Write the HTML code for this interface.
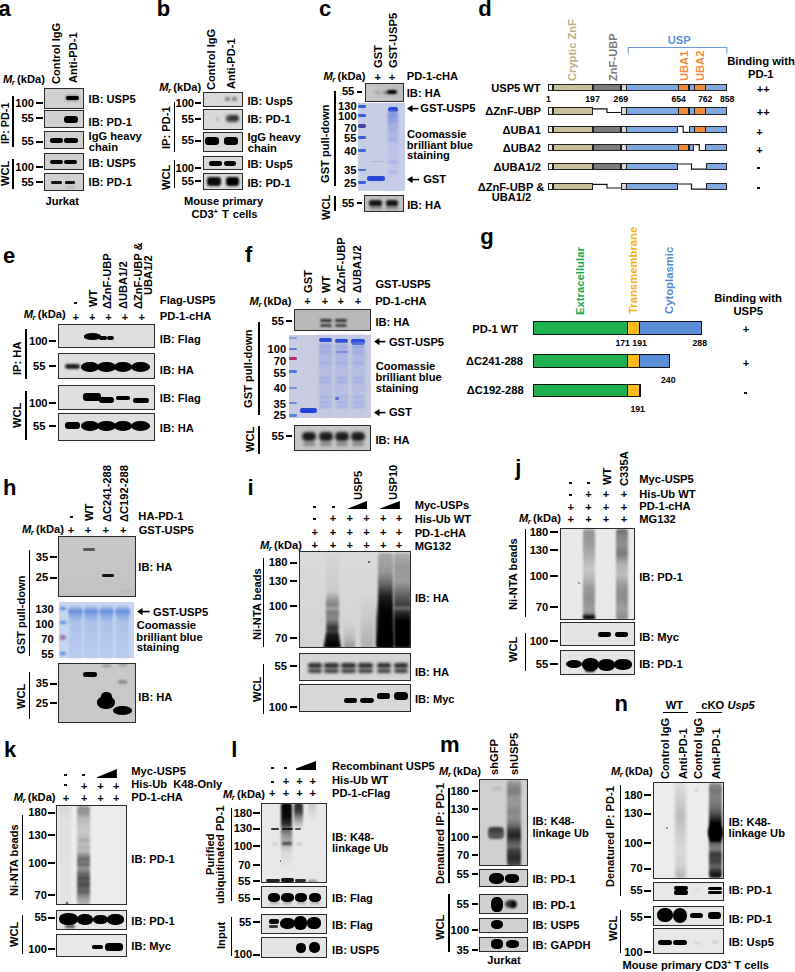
<!DOCTYPE html>
<html><head><meta charset="utf-8"><style>*{margin:0;padding:0;box-sizing:border-box}
html,body{width:795px;height:972px;overflow:hidden;background:#fff}
body{position:relative;font-family:"Liberation Sans", sans-serif;font-weight:bold;color:#000}
.t{position:absolute;white-space:nowrap}
.r{transform-origin:0 0;transform:rotate(-90deg)}
.b{position:absolute}
.t i{font-style:italic}
.t sub{font-size:0.72em;font-style:italic;vertical-align:-0.25em;line-height:0;margin-left:-0.5px;margin-right:-1px}
</style></head><body>
<div class="t" style="left:-1.54px;top:-2.30px;font-size:22px;line-height:22px;">a</div>
<div class="t r" style="left:51.10px;top:83.86px;font-size:11.15px;line-height:11.15px;">Control IgG</div>
<div class="t r" style="left:68.10px;top:83.38px;font-size:11.15px;line-height:11.15px;">Anti-PD-1</div>
<div class="t" style="left:3.00px;top:74.00px;font-size:11.15px;line-height:11.15px;"><i>M</i><sub>r</sub> (kDa)</div>
<div class="b" style="left:44.10px;top:87.80px;width:39.70px;height:21.00px;background:#d0d0d0;border:1.0px solid #2a2a2a;overflow:hidden">
<div class="b" style="left:21.15px;top:7.50px;width:12.50px;height:4.20px;background:#000;border-radius:1.89px;filter:blur(0.6px);opacity:1.0"></div>
<div class="b" style="left:20.40px;top:6.60px;width:14.00px;height:6.00px;background:#000;border-radius:2.70px;filter:blur(1.2px);opacity:0.3"></div>
</div>
<div class="b" style="left:44.10px;top:110.30px;width:39.70px;height:18.10px;background:#d0d0d0;border:1.0px solid #2a2a2a;overflow:hidden">
<div class="b" style="left:19.15px;top:4.70px;width:13.50px;height:6.80px;background:#000;border-radius:3px;filter:blur(0.5px);opacity:1.0"></div>
</div>
<div class="b" style="left:44.10px;top:130.70px;width:39.70px;height:17.90px;background:#d0d0d0;border:1.0px solid #2a2a2a;overflow:hidden">
<div class="b" style="left:4.55px;top:6.20px;width:13.30px;height:5.00px;background:#000;border-radius:2.25px;filter:blur(0.55px);opacity:1.0"></div>
<div class="b" style="left:19.15px;top:6.20px;width:13.50px;height:5.00px;background:#000;border-radius:2.25px;filter:blur(0.55px);opacity:1.0"></div>
</div>
<div class="b" style="left:44.10px;top:153.30px;width:39.70px;height:17.00px;background:#d0d0d0;border:1.0px solid #2a2a2a;overflow:hidden">
<div class="b" style="left:4.70px;top:5.75px;width:13.00px;height:4.30px;background:#000;border-radius:1.94px;filter:blur(0.55px);opacity:1.0"></div>
<div class="b" style="left:19.40px;top:5.75px;width:13.00px;height:4.30px;background:#000;border-radius:1.94px;filter:blur(0.55px);opacity:1.0"></div>
</div>
<div class="b" style="left:44.10px;top:172.50px;width:39.70px;height:18.80px;background:#d0d0d0;border:1.0px solid #2a2a2a;overflow:hidden">
<div class="b" style="left:5.90px;top:7.20px;width:10.60px;height:3.00px;background:#000;border-radius:1.35px;filter:blur(0.6px);opacity:0.9"></div>
<div class="b" style="left:19.80px;top:7.20px;width:10.60px;height:3.00px;background:#000;border-radius:1.35px;filter:blur(0.6px);opacity:0.9"></div>
<div class="b" style="left:20.70px;top:12.00px;width:9.00px;height:2.00px;background:#000;border-radius:0.90px;filter:blur(1px);opacity:0.15"></div>
</div>
<div class="t" style="left:15.35px;top:97.84px;font-size:11.15px;line-height:11.15px;">100</div>
<div class="b" style="left:36.10px;top:102px;width:6.70px;height:2px;background:#000"></div>
<div class="t" style="left:21.41px;top:112.84px;font-size:11.15px;line-height:11.15px;">55</div>
<div class="b" style="left:36.10px;top:117px;width:6.70px;height:2px;background:#000"></div>
<div class="t" style="left:21.41px;top:136.44px;font-size:11.15px;line-height:11.15px;">55</div>
<div class="b" style="left:36.10px;top:141px;width:6.70px;height:2px;background:#000"></div>
<div class="t" style="left:15.35px;top:162.04px;font-size:11.15px;line-height:11.15px;">100</div>
<div class="b" style="left:36.10px;top:166px;width:6.70px;height:2px;background:#000"></div>
<div class="t" style="left:21.41px;top:176.74px;font-size:11.15px;line-height:11.15px;">55</div>
<div class="b" style="left:36.10px;top:181px;width:6.70px;height:2px;background:#000"></div>
<div class="b" style="left:12.25px;top:96.40px;width:1.5px;height:50.30px;background:#000"></div>
<div class="t r" style="left:0.30px;top:144.22px;font-size:10.8px;line-height:10.8px;">IP: PD-1</div>
<div class="b" style="left:12.25px;top:158.60px;width:1.5px;height:30.20px;background:#000"></div>
<div class="t r" style="left:0.30px;top:186.31px;font-size:11.15px;line-height:11.15px;">WCL</div>
<div class="t" style="left:88.55px;top:94.20px;font-size:11.15px;line-height:11.15px;">IB: USP5</div>
<div class="t" style="left:88.55px;top:116.60px;font-size:11.15px;line-height:11.15px;">IB: PD-1</div>
<div class="t" style="left:88.55px;top:131.30px;font-size:11.15px;line-height:11.15px;">IgG heavy</div>
<div class="t" style="left:88.86px;top:142.30px;font-size:11.15px;line-height:11.15px;">chain</div>
<div class="t" style="left:88.55px;top:158.00px;font-size:11.15px;line-height:11.15px;">IB: USP5</div>
<div class="t" style="left:88.55px;top:177.40px;font-size:11.15px;line-height:11.15px;">IB: PD-1</div>
<div class="t" style="left:45.53px;top:196.00px;font-size:11.15px;line-height:11.15px;">Jurkat</div>
<div class="t" style="left:156.75px;top:-2.10px;font-size:22px;line-height:22px;">b</div>
<div class="t r" style="left:205.60px;top:90.06px;font-size:11.15px;line-height:11.15px;">Control IgG</div>
<div class="t r" style="left:226.40px;top:88.98px;font-size:11.15px;line-height:11.15px;">Anti-PD-1</div>
<div class="t" style="left:159.30px;top:82.00px;font-size:11.15px;line-height:11.15px;"><i>M</i><sub>r</sub> (kDa)</div>
<div class="b" style="left:203.10px;top:91.90px;width:39.90px;height:14.70px;background:#d9d9d9;border:1.0px solid #2a2a2a;overflow:hidden">
<div class="b" style="left:21.20px;top:4.55px;width:5.00px;height:3.50px;background:#000;border-radius:1.57px;filter:blur(1px);opacity:0.4"></div>
<div class="b" style="left:27.90px;top:4.55px;width:5.00px;height:3.50px;background:#000;border-radius:1.57px;filter:blur(1px);opacity:0.4"></div>
</div>
<div class="b" style="left:203.40px;top:109.40px;width:39.60px;height:20.40px;background:#d9d9d9;border:1.0px solid #2a2a2a;overflow:hidden">
<div class="b" style="left:11.15px;top:7.10px;width:3.50px;height:4.00px;background:#000;border-radius:1.57px;filter:blur(1.2px);opacity:0.15"></div>
<div class="b" style="left:21.85px;top:4.90px;width:12.50px;height:7.00px;background:#000;border-radius:3.15px;filter:blur(1.4px);opacity:0.7"></div>
<div class="b" style="left:26.60px;top:5.15px;width:7.00px;height:3.50px;background:#000;border-radius:1.57px;filter:blur(1.2px);opacity:0.35"></div>
</div>
<div class="b" style="left:203.40px;top:132.30px;width:39.60px;height:19.70px;background:#d9d9d9;border:1.0px solid #2a2a2a;overflow:hidden">
<div class="b" style="left:1.10px;top:4.20px;width:13.20px;height:7.20px;background:#000;border-radius:3.2px;filter:blur(0.6px);opacity:1.0"></div>
<div class="b" style="left:19.85px;top:4.20px;width:13.70px;height:7.20px;background:#000;border-radius:3.2px;filter:blur(0.6px);opacity:1.0"></div>
</div>
<div class="b" style="left:203.40px;top:156.20px;width:39.60px;height:13.80px;background:#d9d9d9;border:1.0px solid #2a2a2a;overflow:hidden">
<div class="b" style="left:4.85px;top:4.20px;width:12.70px;height:5.00px;background:#000;border-radius:2.25px;filter:blur(0.6px);opacity:1.0"></div>
<div class="b" style="left:19.75px;top:4.30px;width:12.10px;height:4.80px;background:#000;border-radius:2.16px;filter:blur(0.6px);opacity:1.0"></div>
</div>
<div class="b" style="left:203.40px;top:172.50px;width:39.60px;height:17.70px;background:#d9d9d9;border:1.0px solid #2a2a2a;overflow:hidden">
<div class="b" style="left:2.25px;top:3.50px;width:14.30px;height:8.80px;background:#000;border-radius:3px;filter:blur(1.0px);opacity:0.95"></div>
<div class="b" style="left:22.00px;top:3.50px;width:12.60px;height:8.80px;background:#000;border-radius:3px;filter:blur(1.0px);opacity:1.0"></div>
</div>
<div class="t" style="left:175.45px;top:97.64px;font-size:11.15px;line-height:11.15px;">100</div>
<div class="b" style="left:194.60px;top:102px;width:6.30px;height:2px;background:#000"></div>
<div class="t" style="left:181.51px;top:113.74px;font-size:11.15px;line-height:11.15px;">55</div>
<div class="b" style="left:194.60px;top:118px;width:6.30px;height:2px;background:#000"></div>
<div class="t" style="left:181.51px;top:135.44px;font-size:11.15px;line-height:11.15px;">55</div>
<div class="b" style="left:194.60px;top:140px;width:6.30px;height:2px;background:#000"></div>
<div class="t" style="left:175.45px;top:162.94px;font-size:11.15px;line-height:11.15px;">100</div>
<div class="b" style="left:194.60px;top:167px;width:6.30px;height:2px;background:#000"></div>
<div class="t" style="left:181.51px;top:176.14px;font-size:11.15px;line-height:11.15px;">55</div>
<div class="b" style="left:194.60px;top:180px;width:6.30px;height:2px;background:#000"></div>
<div class="b" style="left:173.55px;top:101.90px;width:1.5px;height:50.10px;background:#000"></div>
<div class="t r" style="left:160.50px;top:149.05px;font-size:11.15px;line-height:11.15px;">IP: PD-1</div>
<div class="b" style="left:173.55px;top:160.00px;width:1.5px;height:28.00px;background:#000"></div>
<div class="t r" style="left:160.50px;top:189.81px;font-size:11.15px;line-height:11.15px;">WCL</div>
<div class="t" style="left:247.45px;top:95.80px;font-size:11.15px;line-height:11.15px;">IB: Usp5</div>
<div class="t" style="left:247.45px;top:113.70px;font-size:11.15px;line-height:11.15px;">IB: PD-1</div>
<div class="t" style="left:247.45px;top:131.90px;font-size:11.15px;line-height:11.15px;">IgG heavy</div>
<div class="t" style="left:247.76px;top:142.60px;font-size:11.15px;line-height:11.15px;">chain</div>
<div class="t" style="left:247.45px;top:159.30px;font-size:11.15px;line-height:11.15px;">IB: Usp5</div>
<div class="t" style="left:247.45px;top:177.90px;font-size:11.15px;line-height:11.15px;">IB: PD-1</div>
<div class="t" style="left:183.90px;top:195.80px;font-size:11.15px;line-height:11.15px;">Mouse primary</div>
<div class="t" style="left:191.4px;top:209.00px;font-size:11.15px;line-height:11.15px;word-spacing:1px">CD3<sup style="font-size:7px;vertical-align:4px;line-height:0">+</sup> T cells</div>
<div class="t" style="left:318.94px;top:-1.60px;font-size:22px;line-height:22px;">c</div>
<div class="t r" style="left:373.40px;top:68.46px;font-size:11.15px;line-height:11.15px;">GST</div>
<div class="t r" style="left:387.60px;top:68.46px;font-size:11.15px;line-height:11.15px;">GST-USP5</div>
<div class="t" style="left:323.50px;top:71.30px;font-size:11.15px;line-height:11.15px;"><i>M</i><sub>r</sub> (kDa)</div>
<div class="t" style="left:374.44px;top:72.11px;font-size:11.15px;line-height:11.15px;">+</div>
<div class="t" style="left:388.64px;top:72.11px;font-size:11.15px;line-height:11.15px;">+</div>
<div class="t" style="left:406.75px;top:71.20px;font-size:11.15px;line-height:11.15px;">PD-1-cHA</div>
<div class="b" style="left:364.70px;top:82.50px;width:39.70px;height:19.20px;background:linear-gradient(to right,#c6c6c6,#bdbdbd);border:1.0px solid #2a2a2a;overflow:hidden">
<div class="b" style="left:8.80px;top:7.50px;width:7.00px;height:3.00px;background:#000;border-radius:1.35px;filter:blur(1.2px);opacity:0.12"></div>
<div class="b" style="left:21.25px;top:6.00px;width:10.50px;height:4.80px;background:#000;border-radius:2.16px;filter:blur(0.9px);opacity:1.0"></div>
<div class="b" style="left:17.80px;top:7.20px;width:6.00px;height:3.20px;background:#000;border-radius:1.44px;filter:blur(1.3px);opacity:0.35"></div>
</div>
<div class="t" style="left:341.91px;top:86.44px;font-size:11.15px;line-height:11.15px;">55</div>
<div class="b" style="left:356.90px;top:91px;width:5.50px;height:2px;background:#000"></div>
<div class="t" style="left:406.75px;top:88.30px;font-size:11.15px;line-height:11.15px;">IB: HA</div>
<div class="b" style="left:357.80px;top:103.00px;width:46.80px;height:87.80px;background:#c8cde6;"></div>
<div class="b" style="left:387.00px;top:104.00px;width:12.00px;height:86.00px;background:linear-gradient(#bfc6e8,#c4cae8 60%,#c7cce6);filter:blur(1.2px)"></div>
<div class="b" style="left:358.10px;top:105.00px;width:7.80px;height:2.60px;background:#3a5ed4;border-radius:1.17px;filter:blur(0.7px);opacity:1.0"></div>
<div class="b" style="left:358.10px;top:114.00px;width:7.80px;height:2.60px;background:#3a5ed4;border-radius:1.17px;filter:blur(0.7px);opacity:1.0"></div>
<div class="b" style="left:358.10px;top:124.40px;width:7.80px;height:3.80px;background:#45459e;border-radius:1.71px;filter:blur(0.7px);opacity:1.0"></div>
<div class="b" style="left:358.10px;top:136.20px;width:7.80px;height:2.80px;background:#3a5ed4;border-radius:1.26px;filter:blur(0.7px);opacity:1.0"></div>
<div class="b" style="left:358.10px;top:149.10px;width:7.80px;height:2.80px;background:#4468d6;border-radius:1.26px;filter:blur(0.7px);opacity:1.0"></div>
<div class="b" style="left:358.10px;top:168.60px;width:7.80px;height:2.60px;background:#4a70d8;border-radius:1.17px;filter:blur(0.7px);opacity:1.0"></div>
<div class="b" style="left:358.10px;top:180.80px;width:7.80px;height:3.20px;background:#3a5ed4;border-radius:1.44px;filter:blur(0.7px);opacity:1.0"></div>
<div class="b" style="left:367.30px;top:176.10px;width:18.00px;height:4.60px;background:#2a46d2;border-radius:2.07px;filter:blur(0.7px);opacity:1.0"></div>
<div class="b" style="left:387.50px;top:106.80px;width:10.20px;height:5.20px;background:#2a48d8;border-radius:2.5px;filter:blur(0.7px);opacity:1.0"></div>
<div class="b" style="left:387.50px;top:111.00px;width:10.50px;height:65.00px;background:linear-gradient(to bottom,#7f93de 0%,#a2afe2 20%,#b8c0e6 50%,#c2c8e6 100%);filter:blur(1.2px);border-radius:3px"></div>
<div class="b" style="left:387.85px;top:114.90px;width:9.50px;height:2.20px;background:#8294dc;border-radius:0.99px;filter:blur(0.9px);opacity:0.5"></div>
<div class="b" style="left:387.85px;top:119.40px;width:9.50px;height:2.20px;background:#8294dc;border-radius:0.99px;filter:blur(0.9px);opacity:0.4"></div>
<div class="b" style="left:387.85px;top:129.90px;width:9.50px;height:2.20px;background:#8294dc;border-radius:0.99px;filter:blur(0.9px);opacity:0.3"></div>
<div class="b" style="left:387.85px;top:138.40px;width:9.50px;height:2.20px;background:#8294dc;border-radius:0.99px;filter:blur(0.9px);opacity:0.35"></div>
<div class="b" style="left:387.85px;top:160.90px;width:9.50px;height:2.20px;background:#8294dc;border-radius:0.99px;filter:blur(0.9px);opacity:0.5"></div>
<div class="b" style="left:387.85px;top:171.20px;width:9.50px;height:2.20px;background:#8294dc;border-radius:0.99px;filter:blur(0.9px);opacity:0.55"></div>
<div class="b" style="left:371.00px;top:160.50px;width:12.00px;height:1.60px;background:#a9b2de;border-radius:0.72px;filter:blur(0.7px);opacity:1.0"></div>
<div class="t" style="left:338.05px;top:100.54px;font-size:11.15px;line-height:11.15px;">130</div>
<div class="t" style="left:338.05px;top:111.24px;font-size:11.15px;line-height:11.15px;">100</div>
<div class="t" style="left:344.26px;top:122.54px;font-size:11.15px;line-height:11.15px;">70</div>
<div class="t" style="left:344.11px;top:133.44px;font-size:11.15px;line-height:11.15px;">55</div>
<div class="t" style="left:344.26px;top:146.04px;font-size:11.15px;line-height:11.15px;">40</div>
<div class="t" style="left:344.11px;top:165.14px;font-size:11.15px;line-height:11.15px;">35</div>
<div class="t" style="left:344.11px;top:178.04px;font-size:11.15px;line-height:11.15px;">25</div>
<svg class="b" style="left:405.60px;top:104.00px" width="13.60" height="9.20"><polygon points="1,4.6 6.5,1 6.5,8.2" fill="#000"/><rect x="5.5" y="3.8" width="7.099999999999966" height="1.6" fill="#000"/></svg>
<div class="t" style="left:420.34px;top:103.30px;font-size:11.15px;line-height:11.15px;">GST-USP5</div>
<div class="t" style="left:407.04px;top:128.90px;font-size:11.15px;line-height:11.15px;">Coomassie</div>
<div class="t" style="left:406.77px;top:139.80px;font-size:11.15px;line-height:11.15px;">brilliant blue</div>
<div class="t" style="left:407.11px;top:150.40px;font-size:11.15px;line-height:11.15px;">staining</div>
<svg class="b" style="left:405.60px;top:175.00px" width="14.00" height="9.20"><polygon points="1,4.6 6.5,1 6.5,8.2" fill="#000"/><rect x="5.5" y="3.8" width="7.5" height="1.6" fill="#000"/></svg>
<div class="t" style="left:423.14px;top:174.40px;font-size:11.15px;line-height:11.15px;">GST</div>
<div class="b" style="left:334.15px;top:91.10px;width:1.5px;height:94.70px;background:#000"></div>
<div class="t r" style="left:319.60px;top:183.46px;font-size:11.15px;line-height:11.15px;">GST pull-down</div>
<div class="b" style="left:364.40px;top:195.10px;width:39.60px;height:17.30px;background:#bfbfbf;border:1.0px solid #2a2a2a;overflow:hidden">
<div class="b" style="left:4.10px;top:4.30px;width:13.00px;height:5.80px;background:#000;border-radius:2.61px;filter:blur(1.1px);opacity:0.88"></div>
<div class="b" style="left:20.35px;top:4.30px;width:12.50px;height:5.80px;background:#000;border-radius:2.61px;filter:blur(1.1px);opacity:0.88"></div>
<div class="b" style="left:4.60px;top:10.15px;width:12.00px;height:2.50px;background:#000;border-radius:1.12px;filter:blur(1px);opacity:0.3"></div>
<div class="b" style="left:20.60px;top:10.15px;width:12.00px;height:2.50px;background:#000;border-radius:1.12px;filter:blur(1px);opacity:0.3"></div>
</div>
<div class="t" style="left:341.91px;top:198.24px;font-size:11.15px;line-height:11.15px;">55</div>
<div class="b" style="left:356.60px;top:202px;width:5.80px;height:2px;background:#000"></div>
<div class="b" style="left:334.15px;top:195.50px;width:1.5px;height:15.10px;background:#000"></div>
<div class="t r" style="left:321.00px;top:219.81px;font-size:11.15px;line-height:11.15px;">WCL</div>
<div class="t" style="left:407.15px;top:199.70px;font-size:11.15px;line-height:11.15px;">IB: HA</div>
<div class="t" style="left:478.20px;top:-2.10px;font-size:22px;line-height:22px;">d</div>
<div class="t r" style="left:567.30px;top:80.96px;font-size:11.15px;line-height:11.15px;color:#b9b089;">Cryptic ZnF</div>
<div class="t r" style="left:608.30px;top:80.83px;font-size:11.15px;line-height:11.15px;color:#7a7a7a;">ZnF-UBP</div>
<div class="t" style="left:667.73px;top:35.20px;font-size:11.15px;line-height:11.15px;color:#5b8fd3;">USP</div>
<svg class="b" style="left:626px;top:46px" width="103" height="9"><path d="M2.2,7.5 V1.5 H100.8 V7.5" fill="none" stroke="#6e9ad6" stroke-width="1.1"/></svg>
<div class="t r" style="left:678.80px;top:81.17px;font-size:11.15px;line-height:11.15px;color:#f0883a;">UBA1</div>
<div class="t r" style="left:694.60px;top:81.17px;font-size:11.15px;line-height:11.15px;color:#f0883a;">UBA2</div>
<div class="t" style="left:727.14px;top:55.50px;font-size:11.3px;line-height:11.3px;">Binding with</div>
<div class="t" style="left:747.91px;top:68.80px;font-size:11.3px;line-height:11.3px;">PD-1</div>
<div class="t" style="left:491.16px;top:83.05px;font-size:11.15px;line-height:11.15px;">USP5 WT</div>
<div class="t" style="left:756.78px;top:83.95px;font-size:11.15px;line-height:11.15px;">++</div>
<div class="b" style="left:548.00px;top:84.20px;width:5.00px;height:7.30px;background:#ececec;border:1px solid #222"></div>
<div class="b" style="left:552.50px;top:84.20px;width:40.30px;height:7.30px;background:#c8be98;border:1px solid #222"></div>
<div class="b" style="left:591.80px;top:84.20px;width:29.50px;height:7.30px;background:#7b7b7b;border:1px solid #222"></div>
<div class="b" style="left:592.10px;top:85.20px;width:1.50px;height:5.30px;background:#222;"></div>
<div class="b" style="left:620.80px;top:84.20px;width:6.10px;height:7.30px;background:#d9d9d9;border:1px solid #222"></div>
<div class="b" style="left:626.40px;top:84.20px;width:52.40px;height:7.30px;background:#7fa7e0;border:1px solid #222"></div>
<div class="b" style="left:678.30px;top:84.20px;width:10.90px;height:7.30px;background:#f08a3a;border:1px solid #222"></div>
<div class="b" style="left:688.70px;top:84.20px;width:6.20px;height:7.30px;background:#7fa7e0;border:1px solid #222"></div>
<div class="b" style="left:694.40px;top:84.20px;width:11.30px;height:7.30px;background:#f08a3a;border:1px solid #222"></div>
<div class="b" style="left:705.20px;top:84.20px;width:21.60px;height:7.30px;background:#7fa7e0;border:1px solid #222"></div>
<div class="t" style="left:485.28px;top:106.15px;font-size:11.15px;line-height:11.15px;">ΔZnF-UBP</div>
<div class="t" style="left:756.78px;top:107.05px;font-size:11.15px;line-height:11.15px;">++</div>
<div class="b" style="left:548.00px;top:107.30px;width:5.00px;height:7.30px;background:#ececec;border:1px solid #222"></div>
<div class="b" style="left:552.50px;top:107.30px;width:40.30px;height:7.30px;background:#c8be98;border:1px solid #222"></div>
<svg class="b" style="left:0;top:0;overflow:visible" width="1" height="1"><path d="M592.80,108.90 L607.00,108.90 L607.00,112.45 L620.80,112.45" fill="none" stroke="#111" stroke-width="1.15"/></svg>
<div class="b" style="left:620.80px;top:107.30px;width:6.10px;height:7.30px;background:#d9d9d9;border:1px solid #222"></div>
<div class="b" style="left:626.40px;top:107.30px;width:52.40px;height:7.30px;background:#7fa7e0;border:1px solid #222"></div>
<div class="b" style="left:678.30px;top:107.30px;width:10.90px;height:7.30px;background:#f08a3a;border:1px solid #222"></div>
<div class="b" style="left:688.70px;top:107.30px;width:6.20px;height:7.30px;background:#7fa7e0;border:1px solid #222"></div>
<div class="b" style="left:694.40px;top:107.30px;width:11.30px;height:7.30px;background:#f08a3a;border:1px solid #222"></div>
<div class="b" style="left:705.20px;top:107.30px;width:21.60px;height:7.30px;background:#7fa7e0;border:1px solid #222"></div>
<div class="t" style="left:502.54px;top:124.65px;font-size:11.15px;line-height:11.15px;">ΔUBA1</div>
<div class="t" style="left:756.34px;top:127.26px;font-size:11.15px;line-height:11.15px;">+</div>
<div class="b" style="left:548.00px;top:125.80px;width:5.00px;height:7.30px;background:#ececec;border:1px solid #222"></div>
<div class="b" style="left:552.50px;top:125.80px;width:40.30px;height:7.30px;background:#c8be98;border:1px solid #222"></div>
<div class="b" style="left:591.80px;top:125.80px;width:29.50px;height:7.30px;background:#7b7b7b;border:1px solid #222"></div>
<div class="b" style="left:592.10px;top:126.80px;width:1.50px;height:5.30px;background:#222;"></div>
<div class="b" style="left:620.80px;top:125.80px;width:6.10px;height:7.30px;background:#d9d9d9;border:1px solid #222"></div>
<div class="b" style="left:626.40px;top:125.80px;width:51.90px;height:7.30px;background:#7fa7e0;border:1px solid #222"></div>
<svg class="b" style="left:0;top:0;overflow:visible" width="1" height="1"><path d="M678.30,126.40 L683.20,126.40 L683.20,132.30 L688.70,132.30" fill="none" stroke="#111" stroke-width="1.15"/></svg>
<div class="b" style="left:688.70px;top:125.80px;width:6.20px;height:7.30px;background:#7fa7e0;border:1px solid #222"></div>
<div class="b" style="left:694.40px;top:125.80px;width:11.30px;height:7.30px;background:#f08a3a;border:1px solid #222"></div>
<div class="b" style="left:705.20px;top:125.80px;width:21.60px;height:7.30px;background:#7fa7e0;border:1px solid #222"></div>
<div class="t" style="left:502.67px;top:142.85px;font-size:11.15px;line-height:11.15px;">ΔUBA2</div>
<div class="t" style="left:756.34px;top:144.66px;font-size:11.15px;line-height:11.15px;">+</div>
<div class="b" style="left:548.00px;top:144.00px;width:5.00px;height:7.30px;background:#ececec;border:1px solid #222"></div>
<div class="b" style="left:552.50px;top:144.00px;width:40.30px;height:7.30px;background:#c8be98;border:1px solid #222"></div>
<div class="b" style="left:591.80px;top:144.00px;width:29.50px;height:7.30px;background:#7b7b7b;border:1px solid #222"></div>
<div class="b" style="left:592.10px;top:145.00px;width:1.50px;height:5.30px;background:#222;"></div>
<div class="b" style="left:620.80px;top:144.00px;width:6.10px;height:7.30px;background:#d9d9d9;border:1px solid #222"></div>
<div class="b" style="left:626.40px;top:144.00px;width:52.40px;height:7.30px;background:#7fa7e0;border:1px solid #222"></div>
<div class="b" style="left:678.30px;top:144.00px;width:10.90px;height:7.30px;background:#f08a3a;border:1px solid #222"></div>
<div class="b" style="left:688.70px;top:144.00px;width:5.70px;height:7.30px;background:#7fa7e0;border:1px solid #222"></div>
<svg class="b" style="left:0;top:0;overflow:visible" width="1" height="1"><path d="M694.40,144.60 L699.30,144.60 L699.30,150.50 L705.40,150.50" fill="none" stroke="#111" stroke-width="1.15"/></svg>
<div class="b" style="left:705.40px;top:144.00px;width:21.40px;height:7.30px;background:#7fa7e0;border:1px solid #222"></div>
<div class="t" style="left:493.38px;top:161.65px;font-size:11.15px;line-height:11.15px;">ΔUBA1/2</div>
<div class="b" style="left:757.00px;top:167.00px;width:3px;height:2px;background:#111"></div>
<div class="b" style="left:548.00px;top:162.80px;width:5.00px;height:7.30px;background:#ececec;border:1px solid #222"></div>
<div class="b" style="left:552.50px;top:162.80px;width:40.30px;height:7.30px;background:#c8be98;border:1px solid #222"></div>
<div class="b" style="left:591.80px;top:162.80px;width:29.50px;height:7.30px;background:#7b7b7b;border:1px solid #222"></div>
<div class="b" style="left:592.10px;top:163.80px;width:1.50px;height:5.30px;background:#222;"></div>
<div class="b" style="left:620.80px;top:162.80px;width:6.10px;height:7.30px;background:#d9d9d9;border:1px solid #222"></div>
<div class="b" style="left:626.40px;top:162.80px;width:51.90px;height:7.30px;background:#7fa7e0;border:1px solid #222"></div>
<svg class="b" style="left:0;top:0;overflow:visible" width="1" height="1"><path d="M678.30,164.00 L691.50,164.00 L691.50,169.10 L706.30,169.10" fill="none" stroke="#111" stroke-width="1.15"/></svg>
<div class="b" style="left:706.30px;top:162.80px;width:20.50px;height:7.30px;background:#7fa7e0;border:1px solid #222"></div>
<div class="t" style="left:477.70px;top:181.65px;font-size:11.15px;line-height:11.15px;">ΔZnF-UBP &amp;</div>
<div class="b" style="left:757.00px;top:187.00px;width:3px;height:2px;background:#111"></div>
<div class="b" style="left:548.00px;top:182.80px;width:5.00px;height:7.30px;background:#ececec;border:1px solid #222"></div>
<div class="b" style="left:552.50px;top:182.80px;width:40.30px;height:7.30px;background:#c8be98;border:1px solid #222"></div>
<svg class="b" style="left:0;top:0;overflow:visible" width="1" height="1"><path d="M592.80,184.40 L607.00,184.40 L607.00,187.95 L620.80,187.95" fill="none" stroke="#111" stroke-width="1.15"/></svg>
<div class="b" style="left:620.80px;top:182.80px;width:6.10px;height:7.30px;background:#d9d9d9;border:1px solid #222"></div>
<div class="b" style="left:626.40px;top:182.80px;width:51.90px;height:7.30px;background:#7fa7e0;border:1px solid #222"></div>
<svg class="b" style="left:0;top:0;overflow:visible" width="1" height="1"><path d="M678.30,184.00 L691.50,184.00 L691.50,189.10 L706.30,189.10" fill="none" stroke="#111" stroke-width="1.15"/></svg>
<div class="b" style="left:706.30px;top:182.80px;width:20.50px;height:7.30px;background:#7fa7e0;border:1px solid #222"></div>
<div class="t" style="left:491.63px;top:191.60px;font-size:11.15px;line-height:11.15px;">UBA1/2</div>
<div class="t" style="left:546.03px;top:94.50px;font-size:8.7px;line-height:8.7px;">1</div>
<div class="t" style="left:585.26px;top:94.50px;font-size:8.7px;line-height:8.7px;">197</div>
<div class="t" style="left:613.55px;top:94.50px;font-size:8.7px;line-height:8.7px;">269</div>
<div class="t" style="left:671.41px;top:94.50px;font-size:8.7px;line-height:8.7px;">654</div>
<div class="t" style="left:697.93px;top:94.50px;font-size:8.7px;line-height:8.7px;">762</div>
<div class="t" style="left:719.94px;top:94.50px;font-size:8.7px;line-height:8.7px;">858</div>
<div class="t" style="left:2.94px;top:244.90px;font-size:22px;line-height:22px;">e</div>
<div class="b" style="left:74.00px;top:302.00px;width:3px;height:2px;background:#111"></div>
<div class="t r" style="left:87.50px;top:306.71px;font-size:11.15px;line-height:11.15px;">WT</div>
<div class="t r" style="left:102.40px;top:308.95px;font-size:11.15px;line-height:11.15px;">ΔZnF-UBP</div>
<div class="t r" style="left:118.20px;top:308.95px;font-size:11.15px;line-height:11.15px;">ΔUBA1/2</div>
<div class="t r" style="left:132.80px;top:308.88px;font-size:11.15px;line-height:11.15px;">ΔZnF-UBP &amp;</div>
<div class="t r" style="left:143.00px;top:295.24px;font-size:11.15px;line-height:11.15px;">UBA1/2</div>
<div class="t" style="left:159.85px;top:295.40px;font-size:11.15px;line-height:11.15px;">Flag-USP5</div>
<div class="t" style="left:159.85px;top:310.50px;font-size:11.15px;line-height:11.15px;">PD-1-cHA</div>
<div class="t" style="left:23.80px;top:309.20px;font-size:11.15px;line-height:11.15px;"><i>M</i><sub>r</sub> (kDa)</div>
<div class="t" style="left:72.54px;top:311.51px;font-size:11.15px;line-height:11.15px;">+</div>
<div class="t" style="left:88.94px;top:311.51px;font-size:11.15px;line-height:11.15px;">+</div>
<div class="t" style="left:105.34px;top:311.51px;font-size:11.15px;line-height:11.15px;">+</div>
<div class="t" style="left:121.74px;top:311.51px;font-size:11.15px;line-height:11.15px;">+</div>
<div class="t" style="left:138.44px;top:311.51px;font-size:11.15px;line-height:11.15px;">+</div>
<div class="b" style="left:58.30px;top:324.00px;width:96.40px;height:24.40px;background:#dedede;border:1.0px solid #2a2a2a;overflow:hidden">
<div class="b" style="left:24.70px;top:8.30px;width:16.60px;height:6.40px;background:#000;border-radius:48%;filter:blur(0.6px);opacity:1.0"></div>
<div class="b" style="left:39.70px;top:10.70px;width:8.00px;height:4.00px;background:#000;border-radius:1.80px;filter:blur(0.6px);opacity:1.0"></div>
<div class="b" style="left:47.95px;top:10.50px;width:6.50px;height:4.40px;background:#000;border-radius:1.98px;filter:blur(0.6px);opacity:1.0"></div>
</div>
<div class="b" style="left:58.30px;top:353.00px;width:96.40px;height:26.40px;background:#dedede;border:1.0px solid #2a2a2a;overflow:hidden">
<div class="b" style="left:5.60px;top:9.55px;width:15.20px;height:5.30px;background:#000;border-radius:2.38px;filter:blur(0.8px);opacity:0.85"></div>
<div class="b" style="left:21.95px;top:7.50px;width:17.50px;height:10.00px;background:#000;border-radius:48%;filter:blur(0.7px);opacity:1.0"></div>
<div class="b" style="left:37.95px;top:7.50px;width:18.50px;height:10.00px;background:#000;border-radius:48%;filter:blur(0.7px);opacity:1.0"></div>
<div class="b" style="left:55.00px;top:7.50px;width:18.00px;height:10.00px;background:#000;border-radius:48%;filter:blur(0.7px);opacity:1.0"></div>
<div class="b" style="left:71.45px;top:7.50px;width:19.50px;height:10.00px;background:#000;border-radius:48%;filter:blur(0.7px);opacity:1.0"></div>
</div>
<div class="b" style="left:58.30px;top:384.50px;width:96.40px;height:25.30px;background:#dedede;border:1.0px solid #2a2a2a;overflow:hidden">
<div class="b" style="left:23.35px;top:7.85px;width:17.90px;height:7.30px;background:#000;border-radius:3.29px;filter:blur(0.6px);opacity:1.0"></div>
<div class="b" style="left:39.95px;top:11.10px;width:15.10px;height:6.00px;background:#000;border-radius:2.70px;filter:blur(0.6px);opacity:1.0"></div>
<div class="b" style="left:56.45px;top:10.50px;width:14.50px;height:4.00px;background:#000;border-radius:1.80px;filter:blur(0.6px);opacity:1.0"></div>
<div class="b" style="left:73.65px;top:12.50px;width:16.50px;height:5.20px;background:#000;border-radius:2.34px;filter:blur(0.6px);opacity:1.0"></div>
</div>
<div class="b" style="left:58.30px;top:412.50px;width:96.40px;height:28.80px;background:#dedede;border:1.0px solid #2a2a2a;overflow:hidden">
<div class="b" style="left:5.60px;top:8.90px;width:15.20px;height:6.60px;background:#000;border-radius:2.97px;filter:blur(0.6px);opacity:1.0"></div>
<div class="b" style="left:21.95px;top:7.50px;width:17.50px;height:10.00px;background:#000;border-radius:48%;filter:blur(0.7px);opacity:1.0"></div>
<div class="b" style="left:37.95px;top:7.50px;width:18.50px;height:10.00px;background:#000;border-radius:48%;filter:blur(0.7px);opacity:1.0"></div>
<div class="b" style="left:55.00px;top:7.50px;width:18.00px;height:10.00px;background:#000;border-radius:48%;filter:blur(0.7px);opacity:1.0"></div>
<div class="b" style="left:71.45px;top:7.50px;width:19.50px;height:10.00px;background:#000;border-radius:48%;filter:blur(0.7px);opacity:1.0"></div>
</div>
<div class="t" style="left:28.95px;top:336.24px;font-size:11.15px;line-height:11.15px;">100</div>
<div class="b" style="left:49.30px;top:340px;width:6.80px;height:2px;background:#000"></div>
<div class="t" style="left:33.01px;top:361.14px;font-size:11.15px;line-height:11.15px;">55</div>
<div class="b" style="left:49.30px;top:365px;width:6.80px;height:2px;background:#000"></div>
<div class="t" style="left:28.95px;top:398.34px;font-size:11.15px;line-height:11.15px;">100</div>
<div class="b" style="left:49.30px;top:402px;width:6.80px;height:2px;background:#000"></div>
<div class="t" style="left:33.01px;top:421.24px;font-size:11.15px;line-height:11.15px;">55</div>
<div class="b" style="left:49.30px;top:425px;width:6.80px;height:2px;background:#000"></div>
<div class="b" style="left:25.15px;top:328.90px;width:1.5px;height:50.30px;background:#000"></div>
<div class="t r" style="left:12.30px;top:374.75px;font-size:11.15px;line-height:11.15px;">IP: HA</div>
<div class="b" style="left:25.15px;top:391.00px;width:1.5px;height:49.00px;background:#000"></div>
<div class="t r" style="left:12.30px;top:428.01px;font-size:11.15px;line-height:11.15px;">WCL</div>
<div class="t" style="left:159.85px;top:333.80px;font-size:11.15px;line-height:11.15px;">IB: Flag</div>
<div class="t" style="left:159.85px;top:364.60px;font-size:11.15px;line-height:11.15px;">IB: HA</div>
<div class="t" style="left:159.85px;top:393.40px;font-size:11.15px;line-height:11.15px;">IB: Flag</div>
<div class="t" style="left:159.85px;top:422.60px;font-size:11.15px;line-height:11.15px;">IB: HA</div>
<div class="t" style="left:244.92px;top:243.90px;font-size:22px;line-height:22px;">f</div>
<div class="t r" style="left:303.20px;top:292.96px;font-size:11.15px;line-height:11.15px;">GST</div>
<div class="t r" style="left:320.60px;top:292.51px;font-size:11.15px;line-height:11.15px;">WT</div>
<div class="t r" style="left:335.60px;top:292.95px;font-size:11.15px;line-height:11.15px;">ΔZnF-UBP</div>
<div class="t r" style="left:352.20px;top:292.95px;font-size:11.15px;line-height:11.15px;">ΔUBA1/2</div>
<div class="t" style="left:375.44px;top:279.30px;font-size:11.15px;line-height:11.15px;">GST-USP5</div>
<div class="t" style="left:375.15px;top:296.20px;font-size:11.15px;line-height:11.15px;">PD-1-cHA</div>
<div class="t" style="left:249.60px;top:295.50px;font-size:11.15px;line-height:11.15px;"><i>M</i><sub>r</sub> (kDa)</div>
<div class="t" style="left:304.14px;top:296.21px;font-size:11.15px;line-height:11.15px;">+</div>
<div class="t" style="left:321.74px;top:296.21px;font-size:11.15px;line-height:11.15px;">+</div>
<div class="t" style="left:337.44px;top:296.21px;font-size:11.15px;line-height:11.15px;">+</div>
<div class="t" style="left:354.74px;top:296.21px;font-size:11.15px;line-height:11.15px;">+</div>
<div class="b" style="left:294.00px;top:308.50px;width:77.40px;height:22.80px;background:#b9b9b9;border:1.0px solid #2a2a2a;overflow:hidden">
<div class="b" style="left:24.55px;top:9.20px;width:12.50px;height:3.80px;background:#000;border-radius:1.71px;filter:blur(1.1px);opacity:0.75"></div>
<div class="b" style="left:24.80px;top:14.00px;width:12.00px;height:3.80px;background:#000;border-radius:1.71px;filter:blur(1.1px);opacity:0.65"></div>
<div class="b" style="left:39.75px;top:9.20px;width:12.50px;height:3.80px;background:#000;border-radius:1.71px;filter:blur(1.1px);opacity:0.75"></div>
<div class="b" style="left:40.00px;top:14.00px;width:12.00px;height:3.80px;background:#000;border-radius:1.71px;filter:blur(1.1px);opacity:0.65"></div>
</div>
<div class="t" style="left:271.51px;top:315.54px;font-size:11.15px;line-height:11.15px;">55</div>
<div class="b" style="left:285.80px;top:320px;width:6.00px;height:2px;background:#000"></div>
<div class="t" style="left:375.45px;top:317.00px;font-size:11.15px;line-height:11.15px;">IB: HA</div>
<div class="b" style="left:288.60px;top:334.50px;width:82.40px;height:83.30px;background:#c9cce0;"></div>
<div class="b" style="left:318.00px;top:335.00px;width:15.00px;height:82.00px;background:#c2c7e2;filter:blur(1.5px)"></div>
<div class="b" style="left:334.50px;top:335.00px;width:14.50px;height:82.00px;background:#c2c7e2;filter:blur(1.5px)"></div>
<div class="b" style="left:350.50px;top:335.00px;width:15.50px;height:82.00px;background:#c2c7e2;filter:blur(1.5px)"></div>
<div class="b" style="left:289.40px;top:337.20px;width:7.60px;height:2.00px;background:#8aa0dc;border-radius:0.90px;filter:blur(0.7px);opacity:1.0"></div>
<div class="b" style="left:289.40px;top:347.60px;width:7.60px;height:2.20px;background:#5a80d8;border-radius:0.99px;filter:blur(0.7px);opacity:1.0"></div>
<div class="b" style="left:289.40px;top:356.90px;width:7.60px;height:3.00px;background:#a8306a;border-radius:1.35px;filter:blur(0.7px);opacity:1.0"></div>
<div class="b" style="left:289.40px;top:370.10px;width:7.60px;height:2.60px;background:#4f7ad8;border-radius:1.17px;filter:blur(0.7px);opacity:1.0"></div>
<div class="b" style="left:289.40px;top:386.50px;width:7.60px;height:2.00px;background:#7a98de;border-radius:0.90px;filter:blur(0.7px);opacity:1.0"></div>
<div class="b" style="left:289.40px;top:402.00px;width:7.60px;height:2.20px;background:#6a8ede;border-radius:0.99px;filter:blur(0.7px);opacity:1.0"></div>
<div class="b" style="left:289.40px;top:414.20px;width:7.60px;height:2.60px;background:#5a84dc;border-radius:1.17px;filter:blur(0.7px);opacity:1.0"></div>
<div class="b" style="left:300.20px;top:408.10px;width:16.40px;height:4.60px;background:#2244d6;border-radius:2.07px;filter:blur(0.6px);opacity:1.0"></div>
<div class="b" style="left:318.80px;top:337.90px;width:13.00px;height:4.20px;background:#2a4ad8;border-radius:2px;filter:blur(0.6px);opacity:1.0"></div>
<div class="b" style="left:335.00px;top:339.30px;width:13.00px;height:4.00px;background:#2e4ed8;border-radius:2px;filter:blur(0.6px);opacity:1.0"></div>
<div class="b" style="left:351.00px;top:339.40px;width:14.00px;height:4.20px;background:#2e4ed8;border-radius:2px;filter:blur(0.6px);opacity:1.0"></div>
<div class="b" style="left:318.80px;top:343.00px;width:13.00px;height:64.00px;background:linear-gradient(to bottom,#aab4e0 0%,#b6bee2 50%,#bac1e2 100%);filter:blur(1.2px);border-radius:3px"></div>
<div class="b" style="left:319.30px;top:345.90px;width:12.00px;height:2.20px;background:#8d9de0;border-radius:0.99px;filter:blur(1.0px);opacity:0.55"></div>
<div class="b" style="left:319.30px;top:350.90px;width:12.00px;height:2.20px;background:#8d9de0;border-radius:0.99px;filter:blur(1.0px);opacity:0.55"></div>
<div class="b" style="left:319.30px;top:361.90px;width:12.00px;height:2.20px;background:#8d9de0;border-radius:0.99px;filter:blur(1.0px);opacity:0.55"></div>
<div class="b" style="left:319.30px;top:376.50px;width:12.00px;height:2.20px;background:#8d9de0;border-radius:0.99px;filter:blur(1.0px);opacity:0.55"></div>
<div class="b" style="left:319.30px;top:380.90px;width:12.00px;height:2.20px;background:#8d9de0;border-radius:0.99px;filter:blur(1.0px);opacity:0.55"></div>
<div class="b" style="left:319.30px;top:395.70px;width:12.00px;height:2.20px;background:#8d9de0;border-radius:0.99px;filter:blur(1.0px);opacity:0.55"></div>
<div class="b" style="left:319.30px;top:400.90px;width:12.00px;height:2.20px;background:#8d9de0;border-radius:0.99px;filter:blur(1.0px);opacity:0.55"></div>
<div class="b" style="left:319.30px;top:405.90px;width:12.00px;height:2.20px;background:#8d9de0;border-radius:0.99px;filter:blur(1.0px);opacity:0.55"></div>
<div class="b" style="left:335.00px;top:343.00px;width:13.00px;height:64.00px;background:linear-gradient(to bottom,#aab4e0 0%,#b6bee2 50%,#bac1e2 100%);filter:blur(1.2px);border-radius:3px"></div>
<div class="b" style="left:335.50px;top:345.90px;width:12.00px;height:2.20px;background:#8d9de0;border-radius:0.99px;filter:blur(1.0px);opacity:0.55"></div>
<div class="b" style="left:335.50px;top:350.90px;width:12.00px;height:2.20px;background:#8d9de0;border-radius:0.99px;filter:blur(1.0px);opacity:0.55"></div>
<div class="b" style="left:335.50px;top:361.90px;width:12.00px;height:2.20px;background:#8d9de0;border-radius:0.99px;filter:blur(1.0px);opacity:0.55"></div>
<div class="b" style="left:335.50px;top:376.50px;width:12.00px;height:2.20px;background:#8d9de0;border-radius:0.99px;filter:blur(1.0px);opacity:0.55"></div>
<div class="b" style="left:335.50px;top:380.90px;width:12.00px;height:2.20px;background:#8d9de0;border-radius:0.99px;filter:blur(1.0px);opacity:0.55"></div>
<div class="b" style="left:335.50px;top:395.70px;width:12.00px;height:2.20px;background:#8d9de0;border-radius:0.99px;filter:blur(1.0px);opacity:0.55"></div>
<div class="b" style="left:335.50px;top:400.90px;width:12.00px;height:2.20px;background:#8d9de0;border-radius:0.99px;filter:blur(1.0px);opacity:0.55"></div>
<div class="b" style="left:335.50px;top:405.90px;width:12.00px;height:2.20px;background:#8d9de0;border-radius:0.99px;filter:blur(1.0px);opacity:0.55"></div>
<div class="b" style="left:351.50px;top:343.00px;width:13.00px;height:64.00px;background:linear-gradient(to bottom,#aab4e0 0%,#b6bee2 50%,#bac1e2 100%);filter:blur(1.2px);border-radius:3px"></div>
<div class="b" style="left:352.00px;top:345.90px;width:12.00px;height:2.20px;background:#8d9de0;border-radius:0.99px;filter:blur(1.0px);opacity:0.55"></div>
<div class="b" style="left:352.00px;top:350.90px;width:12.00px;height:2.20px;background:#8d9de0;border-radius:0.99px;filter:blur(1.0px);opacity:0.55"></div>
<div class="b" style="left:352.00px;top:361.90px;width:12.00px;height:2.20px;background:#8d9de0;border-radius:0.99px;filter:blur(1.0px);opacity:0.55"></div>
<div class="b" style="left:352.00px;top:376.50px;width:12.00px;height:2.20px;background:#8d9de0;border-radius:0.99px;filter:blur(1.0px);opacity:0.55"></div>
<div class="b" style="left:352.00px;top:380.90px;width:12.00px;height:2.20px;background:#8d9de0;border-radius:0.99px;filter:blur(1.0px);opacity:0.55"></div>
<div class="b" style="left:352.00px;top:395.70px;width:12.00px;height:2.20px;background:#8d9de0;border-radius:0.99px;filter:blur(1.0px);opacity:0.55"></div>
<div class="b" style="left:352.00px;top:400.90px;width:12.00px;height:2.20px;background:#8d9de0;border-radius:0.99px;filter:blur(1.0px);opacity:0.55"></div>
<div class="b" style="left:352.00px;top:405.90px;width:12.00px;height:2.20px;background:#8d9de0;border-radius:0.99px;filter:blur(1.0px);opacity:0.55"></div>
<div class="b" style="left:335.50px;top:351.00px;width:12.00px;height:2.00px;background:#7a8ede;border-radius:0.90px;filter:blur(0.6px);opacity:1.0"></div>
<div class="b" style="left:352.00px;top:343.00px;width:12.00px;height:2.00px;background:#5670da;border-radius:0.90px;filter:blur(0.6px);opacity:1.0"></div>
<div class="b" style="left:335.00px;top:397.30px;width:4.00px;height:3.00px;background:#5a6ed8;border-radius:1.35px;filter:blur(0.6px);opacity:1.0"></div>
<div class="t" style="left:267.55px;top:344.14px;font-size:11.15px;line-height:11.15px;">100</div>
<div class="t" style="left:273.76px;top:356.44px;font-size:11.15px;line-height:11.15px;">70</div>
<div class="t" style="left:273.61px;top:368.24px;font-size:11.15px;line-height:11.15px;">55</div>
<div class="t" style="left:273.76px;top:382.94px;font-size:11.15px;line-height:11.15px;">40</div>
<div class="t" style="left:273.61px;top:398.84px;font-size:11.15px;line-height:11.15px;">35</div>
<div class="t" style="left:273.61px;top:409.74px;font-size:11.15px;line-height:11.15px;">25</div>
<svg class="b" style="left:373.20px;top:336.90px" width="13.40" height="9.20"><polygon points="1,4.6 6.5,1 6.5,8.2" fill="#000"/><rect x="5.5" y="3.8" width="6.900000000000034" height="1.6" fill="#000"/></svg>
<div class="t" style="left:388.94px;top:336.50px;font-size:11.15px;line-height:11.15px;">GST-USP5</div>
<div class="t" style="left:375.74px;top:361.40px;font-size:11.15px;line-height:11.15px;">Coomassie</div>
<div class="t" style="left:375.47px;top:372.40px;font-size:11.15px;line-height:11.15px;">brilliant blue</div>
<div class="t" style="left:375.81px;top:383.20px;font-size:11.15px;line-height:11.15px;">staining</div>
<svg class="b" style="left:373.20px;top:408.00px" width="13.40" height="9.20"><polygon points="1,4.6 6.5,1 6.5,8.2" fill="#000"/><rect x="5.5" y="3.8" width="6.900000000000034" height="1.6" fill="#000"/></svg>
<div class="t" style="left:388.94px;top:407.40px;font-size:11.15px;line-height:11.15px;">GST</div>
<div class="b" style="left:258.05px;top:322.10px;width:1.5px;height:92.70px;background:#000"></div>
<div class="t r" style="left:243.30px;top:408.46px;font-size:11.15px;line-height:11.15px;">GST pull-down</div>
<div class="b" style="left:294.00px;top:424.50px;width:77.40px;height:26.30px;background:#c6c6c6;border:1.0px solid #2a2a2a;overflow:hidden">
<div class="b" style="left:7.20px;top:6.25px;width:14.00px;height:9.50px;background:#000;border-radius:4.28px;filter:blur(1.6px);opacity:0.85"></div>
<div class="b" style="left:8.20px;top:16.75px;width:12.00px;height:3.50px;background:#000;border-radius:1.57px;filter:blur(1.4px);opacity:0.3"></div>
<div class="b" style="left:23.80px;top:6.25px;width:14.00px;height:9.50px;background:#000;border-radius:4.28px;filter:blur(1.6px);opacity:0.85"></div>
<div class="b" style="left:24.80px;top:16.75px;width:12.00px;height:3.50px;background:#000;border-radius:1.57px;filter:blur(1.4px);opacity:0.3"></div>
<div class="b" style="left:40.40px;top:6.25px;width:14.00px;height:9.50px;background:#000;border-radius:4.28px;filter:blur(1.6px);opacity:0.85"></div>
<div class="b" style="left:41.40px;top:16.75px;width:12.00px;height:3.50px;background:#000;border-radius:1.57px;filter:blur(1.4px);opacity:0.3"></div>
<div class="b" style="left:55.60px;top:6.25px;width:14.00px;height:9.50px;background:#000;border-radius:4.28px;filter:blur(1.6px);opacity:0.85"></div>
<div class="b" style="left:56.60px;top:16.75px;width:12.00px;height:3.50px;background:#000;border-radius:1.57px;filter:blur(1.4px);opacity:0.3"></div>
</div>
<div class="t" style="left:271.51px;top:430.74px;font-size:11.15px;line-height:11.15px;">55</div>
<div class="b" style="left:285.80px;top:435px;width:6.00px;height:2px;background:#000"></div>
<div class="t" style="left:375.45px;top:434.50px;font-size:11.15px;line-height:11.15px;">IB: HA</div>
<div class="b" style="left:258.05px;top:425.90px;width:1.5px;height:27.70px;background:#000"></div>
<div class="t r" style="left:244.50px;top:452.21px;font-size:11.15px;line-height:11.15px;">WCL</div>
<div class="t" style="left:480.20px;top:226.20px;font-size:22px;line-height:22px;">g</div>
<div class="t r" style="left:575.20px;top:314.76px;font-size:11.3px;line-height:11.3px;color:#16aa4a;">Extracellular</div>
<div class="t r" style="left:628.10px;top:314.13px;font-size:11.3px;line-height:11.3px;color:#f7b20c;">Transmembrane</div>
<div class="t r" style="left:664.10px;top:314.46px;font-size:11.3px;line-height:11.3px;color:#5687d2;">Cytoplasmic</div>
<div class="t" style="left:714.14px;top:293.30px;font-size:11.3px;line-height:11.3px;">Binding with</div>
<div class="t" style="left:733.46px;top:305.90px;font-size:11.3px;line-height:11.3px;">USP5</div>
<div class="b" style="left:533.2px;top:320.6px;width:168.60px;height:14.10px;border:1.3px solid #111;background:linear-gradient(to right,#1fb04f 0,#1fb04f 92.80px,#111 92.80px,#111 93.90px,#fbba1c 93.90px,#fbba1c 104.80px,#111 104.80px,#111 105.90px,#5b8ed8 105.90px)"></div>
<div class="b" style="left:533.2px;top:354.3px;width:137.20px;height:13.90px;border:1.3px solid #111;background:linear-gradient(to right,#1fb04f 0,#1fb04f 92.80px,#111 92.80px,#111 93.90px,#fbba1c 93.90px,#fbba1c 104.80px,#111 104.80px,#111 105.90px,#5b8ed8 105.90px)"></div>
<div class="b" style="left:533.2px;top:383.6px;width:107.40px;height:13.70px;border:1.3px solid #111;background:linear-gradient(to right,#1fb04f 0,#1fb04f 92.80px,#111 92.80px,#111 93.90px,#fbba1c 93.90px,#fbba1c 104.80px,#111 104.80px,#111 105.90px,#5b8ed8 105.90px)"></div>
<div class="t" style="left:472.27px;top:323.60px;font-size:11.15px;line-height:11.15px;">PD-1 WT</div>
<div class="t" style="left:466.05px;top:356.30px;font-size:11.15px;line-height:11.15px;">ΔC241-288</div>
<div class="t" style="left:466.65px;top:384.50px;font-size:11.15px;line-height:11.15px;">ΔC192-288</div>
<div class="t" style="left:615.45px;top:338.60px;font-size:8.7px;line-height:8.7px;">171 191</div>
<div class="t" style="left:692.50px;top:338.60px;font-size:8.7px;line-height:8.7px;">288</div>
<div class="t" style="left:661.00px;top:375.60px;font-size:8.7px;line-height:8.7px;">240</div>
<div class="t" style="left:630.45px;top:404.80px;font-size:8.7px;line-height:8.7px;">191</div>
<div class="t" style="left:742.74px;top:324.11px;font-size:11.15px;line-height:11.15px;">+</div>
<div class="t" style="left:742.74px;top:358.01px;font-size:11.15px;line-height:11.15px;">+</div>
<div class="b" style="left:744.00px;top:392.00px;width:3px;height:2px;background:#111"></div>
<div class="t" style="left:2.96px;top:476.90px;font-size:22px;line-height:22px;">h</div>
<div class="b" style="left:70.00px;top:516.00px;width:3px;height:2px;background:#111"></div>
<div class="t r" style="left:83.70px;top:520.61px;font-size:11.15px;line-height:11.15px;">WT</div>
<div class="t r" style="left:101.50px;top:522.25px;font-size:11.15px;line-height:11.15px;">ΔC241-288</div>
<div class="t r" style="left:119.10px;top:522.25px;font-size:11.15px;line-height:11.15px;">ΔC192-288</div>
<div class="t" style="left:138.35px;top:511.00px;font-size:11.15px;line-height:11.15px;">HA-PD-1</div>
<div class="t" style="left:138.64px;top:525.40px;font-size:11.15px;line-height:11.15px;">GST-USP5</div>
<div class="t" style="left:22.00px;top:524.20px;font-size:11.15px;line-height:11.15px;"><i>M</i><sub>r</sub> (kDa)</div>
<div class="t" style="left:67.64px;top:524.51px;font-size:11.15px;line-height:11.15px;">+</div>
<div class="t" style="left:84.74px;top:524.51px;font-size:11.15px;line-height:11.15px;">+</div>
<div class="t" style="left:102.44px;top:524.51px;font-size:11.15px;line-height:11.15px;">+</div>
<div class="t" style="left:120.04px;top:524.51px;font-size:11.15px;line-height:11.15px;">+</div>
<div class="b" style="left:58.10px;top:536.20px;width:77.50px;height:61.30px;background:linear-gradient(#c8c8c8,#c3c3c3);border:1.0px solid #2a2a2a;overflow:hidden">
<div class="b" style="left:23.65px;top:11.30px;width:12.30px;height:2.60px;background:#000;border-radius:1.17px;filter:blur(0.7px);opacity:0.55"></div>
<div class="b" style="left:43.15px;top:37.10px;width:11.50px;height:3.00px;background:#000;border-radius:1.35px;filter:blur(0.6px);opacity:0.9"></div>
<div class="b" style="left:61.90px;top:53.30px;width:10.00px;height:3.00px;background:#000;border-radius:1.35px;filter:blur(1.5px);opacity:0.06"></div>
</div>
<div class="t" style="left:35.71px;top:552.14px;font-size:11.15px;line-height:11.15px;">35</div>
<div class="b" style="left:50.20px;top:556px;width:6.80px;height:2px;background:#000"></div>
<div class="t" style="left:35.71px;top:572.44px;font-size:11.15px;line-height:11.15px;">25</div>
<div class="b" style="left:50.20px;top:577px;width:6.80px;height:2px;background:#000"></div>
<div class="t" style="left:138.35px;top:561.80px;font-size:11.15px;line-height:11.15px;">IB: HA</div>
<div class="b" style="left:59.30px;top:602.20px;width:74.70px;height:56.10px;background:#c7d6f0;"></div>
<div class="b" style="left:68.70px;top:606.00px;width:13.60px;height:52.00px;background:linear-gradient(to bottom,#9fb8e6 0%,#adc2ea 25%,#b8caee 100%);filter:blur(1.3px);border-radius:3px"></div>
<div class="b" style="left:68.25px;top:608.75px;width:14.50px;height:5.50px;background:#6b90dc;border-radius:2.48px;filter:blur(1.1px);opacity:0.95"></div>
<div class="b" style="left:68.50px;top:613.00px;width:14.00px;height:9.00px;filter:blur(1.0px)"><div style="width:100%;height:100%;background:linear-gradient(to bottom,rgba(100,140,220,0.6) 0%,rgba(100,140,220,0) 100%);clip-path:polygon(0.0% 0,100.0% 0,85.7% 100%,14.3% 100%)"></div></div>
<div class="b" style="left:84.20px;top:606.00px;width:13.60px;height:52.00px;background:linear-gradient(to bottom,#9fb8e6 0%,#adc2ea 25%,#b8caee 100%);filter:blur(1.3px);border-radius:3px"></div>
<div class="b" style="left:83.75px;top:608.75px;width:14.50px;height:5.50px;background:#6b90dc;border-radius:2.48px;filter:blur(1.1px);opacity:0.95"></div>
<div class="b" style="left:84.00px;top:613.00px;width:14.00px;height:9.00px;filter:blur(1.0px)"><div style="width:100%;height:100%;background:linear-gradient(to bottom,rgba(100,140,220,0.6) 0%,rgba(100,140,220,0) 100%);clip-path:polygon(0.0% 0,100.0% 0,85.7% 100%,14.3% 100%)"></div></div>
<div class="b" style="left:99.70px;top:606.00px;width:13.60px;height:52.00px;background:linear-gradient(to bottom,#9fb8e6 0%,#adc2ea 25%,#b8caee 100%);filter:blur(1.3px);border-radius:3px"></div>
<div class="b" style="left:99.25px;top:608.75px;width:14.50px;height:5.50px;background:#6b90dc;border-radius:2.48px;filter:blur(1.1px);opacity:0.95"></div>
<div class="b" style="left:99.50px;top:613.00px;width:14.00px;height:9.00px;filter:blur(1.0px)"><div style="width:100%;height:100%;background:linear-gradient(to bottom,rgba(100,140,220,0.6) 0%,rgba(100,140,220,0) 100%);clip-path:polygon(0.0% 0,100.0% 0,85.7% 100%,14.3% 100%)"></div></div>
<div class="b" style="left:115.90px;top:606.00px;width:13.60px;height:52.00px;background:linear-gradient(to bottom,#9fb8e6 0%,#adc2ea 25%,#b8caee 100%);filter:blur(1.3px);border-radius:3px"></div>
<div class="b" style="left:115.45px;top:608.75px;width:14.50px;height:5.50px;background:#6b90dc;border-radius:2.48px;filter:blur(1.1px);opacity:0.95"></div>
<div class="b" style="left:115.70px;top:613.00px;width:14.00px;height:9.00px;filter:blur(1.0px)"><div style="width:100%;height:100%;background:linear-gradient(to bottom,rgba(100,140,220,0.6) 0%,rgba(100,140,220,0) 100%);clip-path:polygon(0.0% 0,100.0% 0,85.7% 100%,14.3% 100%)"></div></div>
<div class="b" style="left:59.80px;top:607.20px;width:6.00px;height:3.00px;background:#5d88de;border-radius:1.35px;filter:blur(0.9px);opacity:1.0"></div>
<div class="b" style="left:59.80px;top:621.10px;width:6.00px;height:3.00px;background:#5d88de;border-radius:1.35px;filter:blur(0.9px);opacity:1.0"></div>
<div class="b" style="left:60.00px;top:635.30px;width:5.60px;height:4.60px;background:#9a78a6;border-radius:2.07px;filter:blur(0.9px);opacity:1.0"></div>
<div class="b" style="left:59.80px;top:652.00px;width:6.00px;height:3.20px;background:#5d88de;border-radius:1.44px;filter:blur(0.9px);opacity:1.0"></div>
<div class="t" style="left:35.15px;top:604.14px;font-size:11.15px;line-height:11.15px;">130</div>
<div class="t" style="left:35.15px;top:618.74px;font-size:11.15px;line-height:11.15px;">100</div>
<div class="t" style="left:41.36px;top:633.84px;font-size:11.15px;line-height:11.15px;">70</div>
<div class="t" style="left:41.21px;top:649.44px;font-size:11.15px;line-height:11.15px;">55</div>
<svg class="b" style="left:136.10px;top:607.40px" width="14.70" height="9.20"><polygon points="1,4.6 6.5,1 6.5,8.2" fill="#000"/><rect x="5.5" y="3.8" width="8.200000000000017" height="1.6" fill="#000"/></svg>
<div class="t" style="left:153.04px;top:606.80px;font-size:11.15px;line-height:11.15px;">GST-USP5</div>
<div class="t" style="left:136.64px;top:619.60px;font-size:11.15px;line-height:11.15px;">Coomassie</div>
<div class="t" style="left:136.37px;top:631.70px;font-size:11.15px;line-height:11.15px;">brilliant blue</div>
<div class="t" style="left:136.71px;top:641.90px;font-size:11.15px;line-height:11.15px;">staining</div>
<div class="b" style="left:28.95px;top:550.10px;width:1.5px;height:105.70px;background:#000"></div>
<div class="t r" style="left:16.20px;top:653.76px;font-size:11.15px;line-height:11.15px;">GST pull-down</div>
<div class="b" style="left:58.10px;top:662.70px;width:77.50px;height:60.70px;background:#c8c8c8;border:1.0px solid #2a2a2a;overflow:hidden">
<div class="b" style="left:23.65px;top:8.30px;width:14.50px;height:5.20px;background:#000;border-radius:2.34px;filter:blur(0.7px);opacity:1.0"></div>
<div class="b" style="left:38.15px;top:32.80px;width:17.50px;height:13.00px;background:#000;border-radius:48%;filter:blur(0.7px);opacity:1.0"></div>
<div class="b" style="left:41.70px;top:28.30px;width:11.00px;height:9.00px;background:#000;border-radius:48%;filter:blur(0.6px);opacity:1.0"></div>
<div class="b" style="left:53.65px;top:42.40px;width:19.50px;height:9.00px;background:#000;border-radius:48%;filter:blur(0.7px);opacity:1.0"></div>
<div class="b" style="left:42.90px;top:0.85px;width:9.00px;height:2.50px;background:#000;border-radius:1.12px;filter:blur(1.0px);opacity:0.3"></div>
<div class="b" style="left:59.40px;top:-0.15px;width:9.00px;height:2.50px;background:#000;border-radius:1.12px;filter:blur(1.0px);opacity:0.25"></div>
<div class="b" style="left:59.40px;top:16.60px;width:9.00px;height:4.00px;background:#000;border-radius:1.80px;filter:blur(1.2px);opacity:0.3"></div>
</div>
<div class="t" style="left:35.71px;top:678.44px;font-size:11.15px;line-height:11.15px;">35</div>
<div class="b" style="left:50.20px;top:683px;width:6.80px;height:2px;background:#000"></div>
<div class="t" style="left:35.71px;top:698.24px;font-size:11.15px;line-height:11.15px;">25</div>
<div class="b" style="left:50.20px;top:702px;width:6.80px;height:2px;background:#000"></div>
<div class="t" style="left:138.35px;top:691.60px;font-size:11.15px;line-height:11.15px;">IB: HA</div>
<div class="b" style="left:28.95px;top:672.10px;width:1.5px;height:46.60px;background:#000"></div>
<div class="t r" style="left:16.20px;top:708.61px;font-size:11.15px;line-height:11.15px;">WCL</div>
<div class="t" style="left:247.46px;top:476.90px;font-size:22px;line-height:22px;">i</div>
<div class="t r" style="left:352.50px;top:500.47px;font-size:11.15px;line-height:11.15px;">USP5</div>
<div class="t r" style="left:387.80px;top:500.47px;font-size:11.15px;line-height:11.15px;">USP10</div>
<svg class="b" style="left:347.90px;top:500.60px" width="19.10" height="8.90"><polygon points="0,8.899999999999977 0,7.60 19.100000000000023,0 19.100000000000023,8.899999999999977" fill="#000"/></svg>
<svg class="b" style="left:380.00px;top:500.60px" width="19.90" height="8.90"><polygon points="0,8.899999999999977 0,7.60 19.899999999999977,0 19.899999999999977,8.899999999999977" fill="#000"/></svg>
<div class="b" style="left:313.00px;top:506.00px;width:3px;height:2px;background:#111"></div>
<div class="b" style="left:332.00px;top:506.00px;width:3px;height:2px;background:#111"></div>
<div class="b" style="left:313.00px;top:518.00px;width:3px;height:2px;background:#111"></div>
<div class="t" style="left:329.74px;top:513.31px;font-size:11.15px;line-height:11.15px;">+</div>
<div class="t" style="left:346.44px;top:513.31px;font-size:11.15px;line-height:11.15px;">+</div>
<div class="t" style="left:363.14px;top:513.31px;font-size:11.15px;line-height:11.15px;">+</div>
<div class="t" style="left:380.04px;top:513.31px;font-size:11.15px;line-height:11.15px;">+</div>
<div class="t" style="left:395.74px;top:513.31px;font-size:11.15px;line-height:11.15px;">+</div>
<div class="t" style="left:311.54px;top:526.51px;font-size:11.15px;line-height:11.15px;">+</div>
<div class="t" style="left:329.74px;top:526.51px;font-size:11.15px;line-height:11.15px;">+</div>
<div class="t" style="left:346.44px;top:526.51px;font-size:11.15px;line-height:11.15px;">+</div>
<div class="t" style="left:363.14px;top:526.51px;font-size:11.15px;line-height:11.15px;">+</div>
<div class="t" style="left:380.04px;top:526.51px;font-size:11.15px;line-height:11.15px;">+</div>
<div class="t" style="left:395.74px;top:526.51px;font-size:11.15px;line-height:11.15px;">+</div>
<div class="t" style="left:311.54px;top:539.51px;font-size:11.15px;line-height:11.15px;">+</div>
<div class="t" style="left:329.74px;top:539.51px;font-size:11.15px;line-height:11.15px;">+</div>
<div class="t" style="left:346.44px;top:539.51px;font-size:11.15px;line-height:11.15px;">+</div>
<div class="t" style="left:363.14px;top:539.51px;font-size:11.15px;line-height:11.15px;">+</div>
<div class="t" style="left:380.04px;top:539.51px;font-size:11.15px;line-height:11.15px;">+</div>
<div class="t" style="left:395.74px;top:539.51px;font-size:11.15px;line-height:11.15px;">+</div>
<div class="t" style="left:414.65px;top:499.70px;font-size:11.15px;line-height:11.15px;">Myc-USPs</div>
<div class="t" style="left:414.65px;top:513.60px;font-size:11.15px;line-height:11.15px;">His-Ub WT</div>
<div class="t" style="left:414.65px;top:527.80px;font-size:11.15px;line-height:11.15px;">PD-1-cHA</div>
<div class="t" style="left:414.65px;top:540.80px;font-size:11.15px;line-height:11.15px;">MG132</div>
<div class="t" style="left:260.00px;top:540.00px;font-size:11.15px;line-height:11.15px;"><i>M</i><sub>r</sub> (kDa)</div>
<div class="b" style="left:299.20px;top:551.30px;width:112.30px;height:96.60px;background:linear-gradient(#dadada,#d3d3d3);border:1.0px solid #2a2a2a;overflow:hidden">
<div class="b" style="left:25.80px;top:0.70px;width:13.00px;height:77.00px;background:linear-gradient(to bottom,rgba(0,0,0,0.02) 0%,rgba(0,0,0,0.06) 50%,rgba(0,0,0,0.3) 62%,rgba(0,0,0,0.4) 68%,rgba(0,0,0,0.2) 72%,rgba(0,0,0,0.42) 76%,rgba(0,0,0,0.35) 88%,rgba(0,0,0,0.5) 100%);filter:blur(1.2px);border-radius:3px"></div>
<div class="b" style="left:23.30px;top:67.70px;width:17.50px;height:28.50px;filter:blur(1.0px)"><div style="width:100%;height:100%;background:linear-gradient(to bottom,rgba(0,0,0,0.1) 0%,rgba(0,0,0,0.55) 30%,rgba(0,0,0,0.9) 55%,rgba(0,0,0,1) 100%);clip-path:polygon(25.7% 0,77.1% 0,100.0% 100%,0.0% 100%)"></div></div>
<div class="b" style="left:44.30px;top:67.70px;width:11.00px;height:28.00px;background:linear-gradient(to bottom,rgba(0,0,0,0) 0%,rgba(0,0,0,0.1) 60%,rgba(0,0,0,0.3) 100%);filter:blur(1.3px);border-radius:3px"></div>
<div class="b" style="left:61.30px;top:37.70px;width:13.00px;height:58.00px;background:linear-gradient(to bottom,rgba(0,0,0,0.0) 0%,rgba(0,0,0,0.06) 50%,rgba(0,0,0,0.18) 100%);filter:blur(1.4px);border-radius:3px"></div>
<div class="b" style="left:78.30px;top:0.70px;width:15.00px;height:95.00px;background:linear-gradient(to bottom,rgba(0,0,0,0.22) 0%,rgba(0,0,0,0.3) 20%,rgba(0,0,0,0.5) 32%,rgba(0,0,0,0.85) 45%,rgba(0,0,0,0.95) 55%,rgba(0,0,0,1) 100%);filter:blur(1.2px);border-radius:3px"></div>
<div class="b" style="left:76.30px;top:47.70px;width:17.50px;height:48.00px;background:linear-gradient(to bottom,rgba(0,0,0,0) 0%,rgba(0,0,0,0.6) 40%,rgba(0,0,0,1) 100%);filter:blur(1.0px);border-radius:3px"></div>
<div class="b" style="left:93.80px;top:0.70px;width:17.00px;height:95.00px;background:linear-gradient(to bottom,rgba(0,0,0,0.2) 0%,rgba(0,0,0,0.3) 15%,rgba(0,0,0,0.28) 30%,rgba(0,0,0,0.5) 42%,rgba(0,0,0,0.72) 55%,rgba(0,0,0,0.45) 58%,rgba(0,0,0,0.8) 62%,rgba(0,0,0,1) 72%,rgba(0,0,0,1) 100%);filter:blur(1.2px);border-radius:3px"></div>
<div class="b" style="left:67.40px;top:8.70px;width:2.20px;height:2.20px;background:#000;border-radius:0.99px;filter:blur(0.4px);opacity:0.75"></div>
</div>
<div class="t" style="left:268.85px;top:557.34px;font-size:11.15px;line-height:11.15px;">180</div>
<div class="b" style="left:290.30px;top:562px;width:6.90px;height:2px;background:#000"></div>
<div class="t" style="left:268.85px;top:575.84px;font-size:11.15px;line-height:11.15px;">130</div>
<div class="b" style="left:290.30px;top:580px;width:6.90px;height:2px;background:#000"></div>
<div class="t" style="left:268.85px;top:600.74px;font-size:11.15px;line-height:11.15px;">100</div>
<div class="b" style="left:290.30px;top:605px;width:6.90px;height:2px;background:#000"></div>
<div class="t" style="left:275.06px;top:632.74px;font-size:11.15px;line-height:11.15px;">70</div>
<div class="b" style="left:290.30px;top:637px;width:6.90px;height:2px;background:#000"></div>
<div class="b" style="left:262.75px;top:558.00px;width:1.5px;height:88.50px;background:#000"></div>
<div class="t r" style="left:251.60px;top:640.35px;font-size:11.15px;line-height:11.15px;">Ni-NTA beads</div>
<div class="t" style="left:414.95px;top:593.30px;font-size:11.15px;line-height:11.15px;">IB: HA</div>
<div class="b" style="left:299.20px;top:652.60px;width:112.30px;height:28.20px;background:#d5d5d5;border:1.0px solid #2a2a2a;overflow:hidden">
<div class="b" style="left:7.35px;top:9.70px;width:14.50px;height:4.60px;background:#000;border-radius:2.07px;filter:blur(1.5px);opacity:0.8"></div>
<div class="b" style="left:7.35px;top:15.10px;width:14.50px;height:4.60px;background:#000;border-radius:2.07px;filter:blur(1.5px);opacity:0.72"></div>
<div class="b" style="left:24.05px;top:9.70px;width:14.50px;height:4.60px;background:#000;border-radius:2.07px;filter:blur(1.5px);opacity:0.8"></div>
<div class="b" style="left:24.05px;top:15.10px;width:14.50px;height:4.60px;background:#000;border-radius:2.07px;filter:blur(1.5px);opacity:0.72"></div>
<div class="b" style="left:40.85px;top:9.70px;width:14.50px;height:4.60px;background:#000;border-radius:2.07px;filter:blur(1.5px);opacity:0.8"></div>
<div class="b" style="left:40.85px;top:15.10px;width:14.50px;height:4.60px;background:#000;border-radius:2.07px;filter:blur(1.5px);opacity:0.72"></div>
<div class="b" style="left:58.05px;top:9.70px;width:14.50px;height:4.60px;background:#000;border-radius:2.07px;filter:blur(1.5px);opacity:0.8"></div>
<div class="b" style="left:58.05px;top:15.10px;width:14.50px;height:4.60px;background:#000;border-radius:2.07px;filter:blur(1.5px);opacity:0.72"></div>
<div class="b" style="left:76.55px;top:9.70px;width:14.50px;height:4.60px;background:#000;border-radius:2.07px;filter:blur(1.5px);opacity:0.8"></div>
<div class="b" style="left:76.55px;top:15.10px;width:14.50px;height:4.60px;background:#000;border-radius:2.07px;filter:blur(1.5px);opacity:0.72"></div>
<div class="b" style="left:93.75px;top:9.70px;width:14.50px;height:4.60px;background:#000;border-radius:2.07px;filter:blur(1.5px);opacity:0.8"></div>
<div class="b" style="left:93.75px;top:15.10px;width:14.50px;height:4.60px;background:#000;border-radius:2.07px;filter:blur(1.5px);opacity:0.72"></div>
</div>
<div class="t" style="left:274.51px;top:661.24px;font-size:11.15px;line-height:11.15px;">55</div>
<div class="b" style="left:290.30px;top:665px;width:6.90px;height:2px;background:#000"></div>
<div class="t" style="left:414.95px;top:666.60px;font-size:11.15px;line-height:11.15px;">IB: HA</div>
<div class="b" style="left:299.20px;top:683.80px;width:112.30px;height:28.50px;background:#d8d8d8;border:1.0px solid #2a2a2a;overflow:hidden">
<div class="b" style="left:44.10px;top:13.10px;width:12.80px;height:5.00px;background:#000;border-radius:2.25px;filter:blur(0.7px);opacity:1.0"></div>
<div class="b" style="left:59.50px;top:12.85px;width:14.40px;height:5.50px;background:#000;border-radius:2.48px;filter:blur(0.7px);opacity:1.0"></div>
<div class="b" style="left:77.20px;top:8.70px;width:12.60px;height:5.20px;background:#000;border-radius:2.34px;filter:blur(0.7px);opacity:1.0"></div>
<div class="b" style="left:93.40px;top:7.10px;width:14.40px;height:7.80px;background:#000;border-radius:3.51px;filter:blur(0.7px);opacity:1.0"></div>
</div>
<div class="t" style="left:268.85px;top:701.84px;font-size:11.15px;line-height:11.15px;">100</div>
<div class="b" style="left:290.30px;top:706px;width:6.90px;height:2px;background:#000"></div>
<div class="t" style="left:414.95px;top:693.70px;font-size:11.15px;line-height:11.15px;">IB: Myc</div>
<div class="b" style="left:262.75px;top:664.00px;width:1.5px;height:50.30px;background:#000"></div>
<div class="t r" style="left:251.60px;top:701.91px;font-size:11.15px;line-height:11.15px;">WCL</div>
<div class="t" style="left:515.14px;top:457.40px;font-size:22px;line-height:22px;">j</div>
<div class="t r" style="left:601.80px;top:484.81px;font-size:11.15px;line-height:11.15px;">WT</div>
<div class="t r" style="left:618.80px;top:485.76px;font-size:11.15px;line-height:11.15px;">C335A</div>
<div class="b" style="left:569.00px;top:482.00px;width:3px;height:2px;background:#111"></div>
<div class="b" style="left:587.00px;top:482.00px;width:3px;height:2px;background:#111"></div>
<div class="b" style="left:569.00px;top:494.00px;width:3px;height:2px;background:#111"></div>
<div class="t" style="left:585.24px;top:489.21px;font-size:11.15px;line-height:11.15px;">+</div>
<div class="t" style="left:602.64px;top:489.21px;font-size:11.15px;line-height:11.15px;">+</div>
<div class="t" style="left:620.74px;top:489.21px;font-size:11.15px;line-height:11.15px;">+</div>
<div class="t" style="left:567.44px;top:501.81px;font-size:11.15px;line-height:11.15px;">+</div>
<div class="t" style="left:585.24px;top:501.81px;font-size:11.15px;line-height:11.15px;">+</div>
<div class="t" style="left:602.64px;top:501.81px;font-size:11.15px;line-height:11.15px;">+</div>
<div class="t" style="left:620.74px;top:501.81px;font-size:11.15px;line-height:11.15px;">+</div>
<div class="t" style="left:567.44px;top:514.31px;font-size:11.15px;line-height:11.15px;">+</div>
<div class="t" style="left:585.24px;top:514.31px;font-size:11.15px;line-height:11.15px;">+</div>
<div class="t" style="left:602.64px;top:514.31px;font-size:11.15px;line-height:11.15px;">+</div>
<div class="t" style="left:620.74px;top:514.31px;font-size:11.15px;line-height:11.15px;">+</div>
<div class="t" style="left:639.25px;top:473.80px;font-size:11.15px;line-height:11.15px;">Myc-USP5</div>
<div class="t" style="left:639.25px;top:488.60px;font-size:11.15px;line-height:11.15px;">His-Ub WT</div>
<div class="t" style="left:639.25px;top:501.30px;font-size:11.15px;line-height:11.15px;">PD-1-cHA</div>
<div class="t" style="left:639.25px;top:514.30px;font-size:11.15px;line-height:11.15px;">MG132</div>
<div class="t" style="left:519.00px;top:513.00px;font-size:11.15px;line-height:11.15px;"><i>M</i><sub>r</sub> (kDa)</div>
<div class="b" style="left:560.30px;top:528.20px;width:75.10px;height:91.50px;background:#e9e9e9;border:1.0px solid #2a2a2a;overflow:hidden">
<div class="b" style="left:22.20px;top:-0.20px;width:12.00px;height:90.50px;background:linear-gradient(to bottom,rgba(0,0,0,0.32) 0%,rgba(0,0,0,0.36) 10%,rgba(0,0,0,0.3) 22%,rgba(0,0,0,0.22) 33%,rgba(0,0,0,0.14) 45%,rgba(0,0,0,0.22) 55%,rgba(0,0,0,0.35) 65%,rgba(0,0,0,0.38) 78%,rgba(0,0,0,0.32) 90%,rgba(0,0,0,0.5) 96%,rgba(0,0,0,0.7) 100%);filter:blur(1.3px);border-radius:3px"></div>
<div class="b" style="left:22.20px;top:85.80px;width:12.00px;height:3.60px;background:#000;border-radius:1.62px;filter:blur(0.9px);opacity:0.85"></div>
<div class="b" style="left:54.70px;top:-0.20px;width:12.50px;height:90.50px;background:linear-gradient(to bottom,rgba(0,0,0,0.55) 0%,rgba(0,0,0,0.42) 8%,rgba(0,0,0,0.38) 18%,rgba(0,0,0,0.48) 27%,rgba(0,0,0,0.25) 38%,rgba(0,0,0,0.18) 50%,rgba(0,0,0,0.35) 62%,rgba(0,0,0,0.4) 75%,rgba(0,0,0,0.32) 88%,rgba(0,0,0,0.4) 100%);filter:blur(1.3px);border-radius:3px"></div>
<div class="b" style="left:16.50px;top:52.80px;width:2.20px;height:2.20px;background:#000;border-radius:0.99px;filter:blur(0.5px);opacity:0.4"></div>
</div>
<div class="t" style="left:529.65px;top:526.64px;font-size:11.15px;line-height:11.15px;">180</div>
<div class="b" style="left:550.30px;top:531px;width:7.30px;height:2px;background:#000"></div>
<div class="t" style="left:529.65px;top:544.94px;font-size:11.15px;line-height:11.15px;">130</div>
<div class="b" style="left:550.30px;top:549px;width:7.30px;height:2px;background:#000"></div>
<div class="t" style="left:529.65px;top:570.64px;font-size:11.15px;line-height:11.15px;">100</div>
<div class="b" style="left:550.30px;top:575px;width:7.30px;height:2px;background:#000"></div>
<div class="t" style="left:535.86px;top:602.14px;font-size:11.15px;line-height:11.15px;">70</div>
<div class="b" style="left:550.30px;top:606px;width:7.30px;height:2px;background:#000"></div>
<div class="b" style="left:524.65px;top:528.80px;width:1.5px;height:88.10px;background:#000"></div>
<div class="t r" style="left:508.40px;top:610.05px;font-size:11.15px;line-height:11.15px;">Ni-NTA beads</div>
<div class="t" style="left:639.25px;top:572.20px;font-size:11.15px;line-height:11.15px;">IB: PD-1</div>
<div class="b" style="left:560.30px;top:622.30px;width:75.10px;height:24.10px;background:#e4e4e4;border:1.0px solid #2a2a2a;overflow:hidden">
<div class="b" style="left:36.90px;top:8.80px;width:13.20px;height:5.00px;background:#000;border-radius:2.25px;filter:blur(0.7px);opacity:1.0"></div>
<div class="b" style="left:53.60px;top:8.90px;width:12.80px;height:4.80px;background:#000;border-radius:2.16px;filter:blur(0.7px);opacity:1.0"></div>
</div>
<div class="t" style="left:529.65px;top:635.64px;font-size:11.15px;line-height:11.15px;">100</div>
<div class="b" style="left:550.30px;top:640px;width:7.30px;height:2px;background:#000"></div>
<div class="t" style="left:639.25px;top:631.90px;font-size:11.15px;line-height:11.15px;">IB: Myc</div>
<div class="b" style="left:560.30px;top:649.70px;width:75.10px;height:25.20px;background:#e4e4e4;border:1.0px solid #2a2a2a;overflow:hidden">
<div class="b" style="left:4.65px;top:9.15px;width:16.50px;height:8.50px;background:#000;border-radius:48%;filter:blur(0.7px);opacity:1.0"></div>
<div class="b" style="left:20.60px;top:7.80px;width:17.00px;height:13.00px;background:#000;border-radius:45%;filter:blur(0.7px);opacity:1.0"></div>
<div class="b" style="left:36.95px;top:7.85px;width:16.50px;height:12.50px;background:#000;border-radius:45%;filter:blur(0.7px);opacity:1.0"></div>
<div class="b" style="left:52.90px;top:8.40px;width:18.00px;height:11.00px;background:#000;border-radius:45%;filter:blur(0.7px);opacity:1.0"></div>
<div class="b" style="left:23.70px;top:16.30px;width:10.00px;height:5.00px;background:#000;border-radius:2.25px;filter:blur(0.8px);opacity:1.0"></div>
</div>
<div class="t" style="left:535.71px;top:658.74px;font-size:11.15px;line-height:11.15px;">55</div>
<div class="b" style="left:550.30px;top:663px;width:7.30px;height:2px;background:#000"></div>
<div class="t" style="left:639.25px;top:658.50px;font-size:11.15px;line-height:11.15px;">IB: PD-1</div>
<div class="b" style="left:524.65px;top:633.20px;width:1.5px;height:37.80px;background:#000"></div>
<div class="t r" style="left:508.40px;top:662.11px;font-size:11.15px;line-height:11.15px;">WCL</div>
<div class="t" style="left:3.96px;top:739.40px;font-size:22px;line-height:22px;">k</div>
<div class="b" style="left:64.00px;top:774.00px;width:3px;height:2px;background:#111"></div>
<div class="b" style="left:82.00px;top:774.00px;width:3px;height:2px;background:#111"></div>
<svg class="b" style="left:97.20px;top:768.80px" width="19.90" height="9.60"><polygon points="0,9.600000000000023 0,8.30 19.89999999999999,0 19.89999999999999,9.600000000000023" fill="#000"/></svg>
<div class="b" style="left:64.00px;top:784.00px;width:3px;height:2px;background:#111"></div>
<div class="t" style="left:81.04px;top:780.61px;font-size:11.15px;line-height:11.15px;">+</div>
<div class="t" style="left:97.34px;top:780.61px;font-size:11.15px;line-height:11.15px;">+</div>
<div class="t" style="left:112.94px;top:780.61px;font-size:11.15px;line-height:11.15px;">+</div>
<div class="t" style="left:62.64px;top:792.61px;font-size:11.15px;line-height:11.15px;">+</div>
<div class="t" style="left:81.04px;top:792.61px;font-size:11.15px;line-height:11.15px;">+</div>
<div class="t" style="left:97.34px;top:792.61px;font-size:11.15px;line-height:11.15px;">+</div>
<div class="t" style="left:112.94px;top:792.61px;font-size:11.15px;line-height:11.15px;">+</div>
<div class="t" style="left:131.35px;top:765.60px;font-size:11.15px;line-height:11.15px;">Myc-USP5</div>
<div class="t" style="left:131.28px;top:779.40px;font-size:11.15px;line-height:11.15px;word-spacing:3px">His-Ub K48-Only</div>
<div class="t" style="left:131.35px;top:792.40px;font-size:11.15px;line-height:11.15px;">PD-1-cHA</div>
<div class="t" style="left:13.70px;top:791.60px;font-size:11.15px;line-height:11.15px;"><i>M</i><sub>r</sub> (kDa)</div>
<div class="b" style="left:56.30px;top:805.00px;width:71.20px;height:100.30px;background:#ececec;border:1.0px solid #2a2a2a;overflow:hidden">
<div class="b" style="left:20.20px;top:0.00px;width:12.50px;height:99.00px;background:linear-gradient(to bottom,rgba(0,0,0,0.4) 0%,rgba(0,0,0,0.35) 8%,rgba(0,0,0,0.22) 12%,rgba(0,0,0,0.15) 25%,rgba(0,0,0,0.2) 35%,rgba(0,0,0,0.18) 45%,rgba(0,0,0,0.45) 51%,rgba(0,0,0,0.5) 58%,rgba(0,0,0,0.35) 63%,rgba(0,0,0,0.55) 68%,rgba(0,0,0,0.62) 75%,rgba(0,0,0,0.6) 82%,rgba(0,0,0,0.5) 88%,rgba(0,0,0,0.3) 95%,rgba(0,0,0,0.25) 100%);filter:blur(1.2px);border-radius:3px"></div>
<div class="b" style="left:0.70px;top:0.00px;width:13.00px;height:99.00px;background:linear-gradient(to bottom,rgba(0,0,0,0.1) 0%,rgba(0,0,0,0.05) 15%,rgba(0,0,0,0.03) 100%);filter:blur(1.5px);border-radius:3px"></div>
<svg class="b" style="left:6.20px;top:93.50px" width="8" height="7"><polygon points="1,6 4,1 7,6" fill="rgba(0,0,0,0.55)"/></svg>
<div class="b" style="left:20.75px;top:32.75px;width:11.50px;height:2.50px;background:#000;border-radius:1.12px;filter:blur(1px);opacity:0.12"></div>
<div class="b" style="left:20.75px;top:40.75px;width:11.50px;height:2.50px;background:#000;border-radius:1.12px;filter:blur(1px);opacity:0.1"></div>
<div class="b" style="left:20.75px;top:51.75px;width:11.50px;height:2.50px;background:#000;border-radius:1.12px;filter:blur(1px);opacity:0.2"></div>
<div class="b" style="left:20.75px;top:57.75px;width:11.50px;height:2.50px;background:#000;border-radius:1.12px;filter:blur(1px);opacity:0.18"></div>
<div class="b" style="left:20.75px;top:70.75px;width:11.50px;height:2.50px;background:#000;border-radius:1.12px;filter:blur(1px);opacity:0.2"></div>
<div class="b" style="left:20.75px;top:77.75px;width:11.50px;height:2.50px;background:#000;border-radius:1.12px;filter:blur(1px);opacity:0.25"></div>
<div class="b" style="left:20.75px;top:84.75px;width:11.50px;height:2.50px;background:#000;border-radius:1.12px;filter:blur(1px);opacity:0.2"></div>
</div>
<div class="t" style="left:28.35px;top:807.34px;font-size:11.15px;line-height:11.15px;">180</div>
<div class="b" style="left:48.40px;top:812px;width:6.20px;height:2px;background:#000"></div>
<div class="t" style="left:28.35px;top:829.64px;font-size:11.15px;line-height:11.15px;">130</div>
<div class="b" style="left:48.40px;top:834px;width:6.20px;height:2px;background:#000"></div>
<div class="t" style="left:28.35px;top:858.34px;font-size:11.15px;line-height:11.15px;">100</div>
<div class="b" style="left:48.40px;top:862px;width:6.20px;height:2px;background:#000"></div>
<div class="t" style="left:34.56px;top:890.04px;font-size:11.15px;line-height:11.15px;">70</div>
<div class="b" style="left:48.40px;top:894px;width:6.20px;height:2px;background:#000"></div>
<div class="b" style="left:21.95px;top:814.60px;width:1.5px;height:85.30px;background:#000"></div>
<div class="t r" style="left:9.00px;top:896.45px;font-size:11.15px;line-height:11.15px;">Ni-NTA beads</div>
<div class="t" style="left:131.35px;top:853.70px;font-size:11.15px;line-height:11.15px;">IB: PD-1</div>
<div class="b" style="left:56.30px;top:910.30px;width:71.20px;height:19.40px;background:#e6e6e6;border:1.0px solid #2a2a2a;overflow:hidden">
<div class="b" style="left:1.70px;top:2.00px;width:19.00px;height:12.00px;background:#000;border-radius:45%;filter:blur(0.7px);opacity:1.0"></div>
<div class="b" style="left:19.70px;top:2.70px;width:16.00px;height:11.00px;background:#000;border-radius:45%;filter:blur(0.7px);opacity:1.0"></div>
<div class="b" style="left:36.05px;top:3.55px;width:14.50px;height:9.50px;background:#000;border-radius:45%;filter:blur(0.7px);opacity:1.0"></div>
<div class="b" style="left:50.20px;top:2.95px;width:17.00px;height:10.50px;background:#000;border-radius:45%;filter:blur(0.7px);opacity:1.0"></div>
<div class="b" style="left:7.70px;top:13.45px;width:10.00px;height:3.50px;background:#000;border-radius:1.57px;filter:blur(0.9px);opacity:0.7"></div>
</div>
<div class="t" style="left:34.41px;top:912.44px;font-size:11.15px;line-height:11.15px;">55</div>
<div class="b" style="left:48.40px;top:917px;width:6.20px;height:2px;background:#000"></div>
<div class="t" style="left:131.35px;top:916.00px;font-size:11.15px;line-height:11.15px;">IB: PD-1</div>
<div class="b" style="left:56.30px;top:934.20px;width:71.20px;height:23.30px;background:#e8e8e8;border:1.0px solid #2a2a2a;overflow:hidden">
<div class="b" style="left:34.40px;top:9.60px;width:11.60px;height:4.00px;background:#000;border-radius:1.80px;filter:blur(0.7px);opacity:1.0"></div>
<div class="b" style="left:47.75px;top:7.80px;width:18.30px;height:7.80px;background:#000;border-radius:3.5px;filter:blur(0.7px);opacity:1.0"></div>
</div>
<div class="t" style="left:28.35px;top:944.04px;font-size:11.15px;line-height:11.15px;">100</div>
<div class="b" style="left:48.40px;top:948px;width:6.20px;height:2px;background:#000"></div>
<div class="t" style="left:131.35px;top:940.90px;font-size:11.15px;line-height:11.15px;">IB: Myc</div>
<div class="b" style="left:21.95px;top:915.00px;width:1.5px;height:39.00px;background:#000"></div>
<div class="t r" style="left:9.00px;top:947.21px;font-size:11.15px;line-height:11.15px;">WCL</div>
<div class="t" style="left:231.16px;top:738.80px;font-size:22px;line-height:22px;">l</div>
<div class="b" style="left:271.00px;top:767.00px;width:3px;height:2px;background:#111"></div>
<div class="b" style="left:284.00px;top:767.00px;width:3px;height:2px;background:#111"></div>
<svg class="b" style="left:295.60px;top:761.40px" width="20.10" height="8.90"><polygon points="0,8.899999999999977 0,7.60 20.099999999999966,0 20.099999999999966,8.899999999999977" fill="#000"/></svg>
<div class="b" style="left:271.00px;top:781.00px;width:3px;height:2px;background:#111"></div>
<div class="t" style="left:282.74px;top:776.21px;font-size:11.15px;line-height:11.15px;">+</div>
<div class="t" style="left:296.14px;top:776.21px;font-size:11.15px;line-height:11.15px;">+</div>
<div class="t" style="left:309.44px;top:776.21px;font-size:11.15px;line-height:11.15px;">+</div>
<div class="t" style="left:268.94px;top:788.31px;font-size:11.15px;line-height:11.15px;">+</div>
<div class="t" style="left:282.74px;top:788.31px;font-size:11.15px;line-height:11.15px;">+</div>
<div class="t" style="left:296.14px;top:788.31px;font-size:11.15px;line-height:11.15px;">+</div>
<div class="t" style="left:309.44px;top:788.31px;font-size:11.15px;line-height:11.15px;">+</div>
<div class="t" style="left:332.05px;top:761.40px;font-size:11.15px;line-height:11.15px;">Recombinant USP5</div>
<div class="t" style="left:332.05px;top:775.30px;font-size:11.15px;line-height:11.15px;">His-Ub WT</div>
<div class="t" style="left:332.05px;top:787.80px;font-size:11.15px;line-height:11.15px;">PD-1-cFlag</div>
<div class="t" style="left:223.00px;top:788.50px;font-size:11.15px;line-height:11.15px;"><i>M</i><sub>r</sub> (kDa)</div>
<div class="b" style="left:261.40px;top:803.10px;width:65.30px;height:80.10px;background:#e8e8e8;border:1.0px solid #2a2a2a;overflow:hidden">
<div class="b" style="left:18.90px;top:-1.10px;width:11.00px;height:47.00px;background:linear-gradient(to bottom,rgba(0,0,0,1) 0%,rgba(0,0,0,0.95) 30%,rgba(0,0,0,0.8) 45%,rgba(0,0,0,0.5) 55%,rgba(0,0,0,0.25) 70%,rgba(0,0,0,0.05) 100%);filter:blur(1.3px);border-radius:3px"></div>
<div class="b" style="left:31.80px;top:-1.10px;width:9.00px;height:27.00px;background:linear-gradient(to bottom,rgba(0,0,0,0.85) 0%,rgba(0,0,0,0.75) 30%,rgba(0,0,0,0.4) 55%,rgba(0,0,0,0.15) 80%,rgba(0,0,0,0.0) 100%);filter:blur(1.3px);border-radius:3px"></div>
<div class="b" style="left:46.10px;top:-1.10px;width:8.00px;height:17.00px;background:linear-gradient(to bottom,rgba(0,0,0,0.15) 0%,rgba(0,0,0,0.0) 100%);filter:blur(1.3px);border-radius:3px"></div>
<div class="b" style="left:19.10px;top:25.90px;width:11.00px;height:40.00px;background:linear-gradient(to bottom,rgba(0,0,0,0.15) 0%,rgba(0,0,0,0.0) 100%);filter:blur(1.3px);border-radius:3px"></div>
<div class="b" style="left:8.60px;top:24.20px;width:7.60px;height:1.80px;background:#000;border-radius:0.81px;filter:blur(0.6px);opacity:0.75"></div>
<div class="b" style="left:19.60px;top:24.10px;width:11.00px;height:2.00px;background:#000;border-radius:0.90px;filter:blur(0.6px);opacity:0.8"></div>
<div class="b" style="left:33.10px;top:24.20px;width:6.00px;height:1.80px;background:#000;border-radius:0.81px;filter:blur(0.6px);opacity:0.6"></div>
<div class="b" style="left:19.80px;top:38.30px;width:10.00px;height:3.00px;background:#000;border-radius:1.35px;filter:blur(0.8px);opacity:0.6"></div>
<div class="b" style="left:9.60px;top:38.90px;width:6.00px;height:2.00px;background:#000;border-radius:0.90px;filter:blur(1px);opacity:0.15"></div>
<div class="b" style="left:33.60px;top:38.90px;width:6.00px;height:2.00px;background:#000;border-radius:0.90px;filter:blur(1px);opacity:0.2"></div>
<div class="b" style="left:17.15px;top:56.35px;width:1.50px;height:1.50px;background:#000;border-radius:0.68px;filter:blur(0.4px);opacity:0.6"></div>
<div class="b" style="left:3.65px;top:74.90px;width:13.50px;height:3.20px;background:#000;border-radius:1.44px;filter:blur(0.7px);opacity:0.85"></div>
<div class="b" style="left:18.60px;top:74.20px;width:12.80px;height:3.80px;background:#000;border-radius:1.71px;filter:blur(0.7px);opacity:0.9"></div>
<div class="b" style="left:32.20px;top:74.90px;width:11.00px;height:3.20px;background:#000;border-radius:1.44px;filter:blur(0.7px);opacity:0.8"></div>
<div class="b" style="left:45.60px;top:76.20px;width:9.40px;height:2.20px;background:#000;border-radius:0.99px;filter:blur(0.8px);opacity:0.45"></div>
</div>
<div class="t" style="left:233.65px;top:807.84px;font-size:11.15px;line-height:11.15px;">180</div>
<div class="b" style="left:252.90px;top:812px;width:6.70px;height:2px;background:#000"></div>
<div class="t" style="left:233.65px;top:823.44px;font-size:11.15px;line-height:11.15px;">130</div>
<div class="b" style="left:252.90px;top:828px;width:6.70px;height:2px;background:#000"></div>
<div class="t" style="left:233.65px;top:841.14px;font-size:11.15px;line-height:11.15px;">100</div>
<div class="b" style="left:252.90px;top:845px;width:6.70px;height:2px;background:#000"></div>
<div class="t" style="left:238.16px;top:859.54px;font-size:11.15px;line-height:11.15px;">70</div>
<div class="b" style="left:252.90px;top:864px;width:6.70px;height:2px;background:#000"></div>
<div class="t" style="left:238.01px;top:875.94px;font-size:11.15px;line-height:11.15px;">55</div>
<div class="b" style="left:252.90px;top:880px;width:6.70px;height:2px;background:#000"></div>
<div class="b" style="left:230.65px;top:808.00px;width:1.5px;height:92.70px;background:#000"></div>
<div class="t r" style="left:204.60px;top:874.96px;font-size:11.15px;line-height:11.15px;">Purified</div>
<div class="t r" style="left:215.30px;top:903.93px;font-size:11.15px;line-height:11.15px;">ubiquitinated PD-1</div>
<div class="t" style="left:332.05px;top:831.90px;font-size:11.15px;line-height:11.15px;">IB: K48-</div>
<div class="t" style="left:332.02px;top:842.80px;font-size:11.15px;line-height:11.15px;">linkage Ub</div>
<div class="b" style="left:261.40px;top:886.00px;width:65.30px;height:21.60px;background:#e4e4e4;border:1.0px solid #2a2a2a;overflow:hidden">
<div class="b" style="left:6.10px;top:6.30px;width:11.80px;height:8.40px;background:#000;border-radius:45%;filter:blur(0.7px);opacity:1.0"></div>
<div class="b" style="left:7.60px;top:14.50px;width:8.80px;height:2.00px;background:#000;border-radius:0.90px;filter:blur(0.8px);opacity:0.3"></div>
<div class="b" style="left:18.65px;top:6.30px;width:12.70px;height:8.40px;background:#000;border-radius:45%;filter:blur(0.7px);opacity:1.0"></div>
<div class="b" style="left:20.15px;top:14.50px;width:9.70px;height:2.00px;background:#000;border-radius:0.90px;filter:blur(0.8px);opacity:0.3"></div>
<div class="b" style="left:33.10px;top:6.30px;width:11.80px;height:8.40px;background:#000;border-radius:45%;filter:blur(0.7px);opacity:1.0"></div>
<div class="b" style="left:34.60px;top:14.50px;width:8.80px;height:2.00px;background:#000;border-radius:0.90px;filter:blur(0.8px);opacity:0.3"></div>
<div class="b" style="left:46.55px;top:6.30px;width:12.10px;height:8.40px;background:#000;border-radius:45%;filter:blur(0.7px);opacity:1.0"></div>
<div class="b" style="left:48.05px;top:14.50px;width:9.10px;height:2.00px;background:#000;border-radius:0.90px;filter:blur(0.8px);opacity:0.3"></div>
</div>
<div class="t" style="left:238.01px;top:893.44px;font-size:11.15px;line-height:11.15px;">55</div>
<div class="b" style="left:252.90px;top:898px;width:6.70px;height:2px;background:#000"></div>
<div class="t" style="left:332.05px;top:893.30px;font-size:11.15px;line-height:11.15px;">IB: Flag</div>
<div class="b" style="left:261.40px;top:914.00px;width:65.30px;height:20.30px;background:#e4e4e4;border:1.0px solid #2a2a2a;overflow:hidden">
<div class="b" style="left:6.15px;top:4.40px;width:10.10px;height:4.20px;background:#000;border-radius:1.89px;filter:blur(0.7px);opacity:0.95"></div>
<div class="b" style="left:6.70px;top:10.30px;width:9.00px;height:2.60px;background:#000;border-radius:1.17px;filter:blur(0.7px);opacity:0.75"></div>
<div class="b" style="left:17.85px;top:3.00px;width:14.50px;height:11.20px;background:#000;border-radius:45%;filter:blur(0.7px);opacity:1.0"></div>
<div class="b" style="left:32.10px;top:1.05px;width:13.00px;height:13.90px;background:#000;border-radius:45%;filter:blur(0.7px);opacity:1.0"></div>
<div class="b" style="left:44.95px;top:2.30px;width:13.50px;height:11.80px;background:#000;border-radius:45%;filter:blur(0.7px);opacity:1.0"></div>
</div>
<div class="t" style="left:238.91px;top:916.84px;font-size:11.15px;line-height:11.15px;">55</div>
<div class="b" style="left:252.90px;top:921px;width:6.70px;height:2px;background:#000"></div>
<div class="t" style="left:332.05px;top:919.60px;font-size:11.15px;line-height:11.15px;">IB: Flag</div>
<div class="b" style="left:261.40px;top:937.30px;width:65.30px;height:20.90px;background:#e4e4e4;border:1.0px solid #2a2a2a;overflow:hidden">
<div class="b" style="left:33.75px;top:4.70px;width:10.30px;height:9.80px;background:#000;border-radius:45%;filter:blur(0.7px);opacity:1.0"></div>
<div class="b" style="left:46.25px;top:3.80px;width:11.30px;height:11.00px;background:#000;border-radius:45%;filter:blur(0.7px);opacity:1.0"></div>
</div>
<div class="t" style="left:233.65px;top:949.44px;font-size:11.15px;line-height:11.15px;">100</div>
<div class="b" style="left:252.90px;top:954px;width:6.70px;height:2px;background:#000"></div>
<div class="t" style="left:332.05px;top:944.70px;font-size:11.15px;line-height:11.15px;">IB: USP5</div>
<div class="b" style="left:230.65px;top:917.00px;width:1.5px;height:39.00px;background:#000"></div>
<div class="t r" style="left:216.30px;top:949.25px;font-size:11.15px;line-height:11.15px;">Input</div>
<div class="t" style="left:440.05px;top:733.60px;font-size:22px;line-height:22px;">m</div>
<div class="t r" style="left:488.80px;top:774.69px;font-size:11.15px;line-height:11.15px;">shGFP</div>
<div class="t r" style="left:509.20px;top:774.69px;font-size:11.15px;line-height:11.15px;">shUSP5</div>
<div class="t" style="left:439.10px;top:766.00px;font-size:11.15px;line-height:11.15px;"><i>M</i><sub>r</sub> (kDa)</div>
<div class="b" style="left:479.30px;top:778.80px;width:49.00px;height:87.60px;background:#cfcfcf;border:1.0px solid #2a2a2a;overflow:hidden">
<div class="b" style="left:7.75px;top:46.95px;width:15.50px;height:12.50px;background:#000;border-radius:4px;filter:blur(1.3px);opacity:0.6"></div>
<div class="b" style="left:8.50px;top:47.20px;width:14.00px;height:5.00px;background:#000;border-radius:2.25px;filter:blur(1.2px);opacity:0.25"></div>
<div class="b" style="left:11.70px;top:7.00px;width:9.00px;height:3.00px;background:#000;border-radius:1.35px;filter:blur(1.2px);opacity:0.12"></div>
<div class="b" style="left:27.10px;top:0.20px;width:13.30px;height:86.00px;background:linear-gradient(to bottom,rgba(0,0,0,0.2) 0%,rgba(0,0,0,0.35) 8%,rgba(0,0,0,0.4) 14%,rgba(0,0,0,0.28) 20%,rgba(0,0,0,0.25) 28%,rgba(0,0,0,0.35) 36%,rgba(0,0,0,0.3) 44%,rgba(0,0,0,0.45) 52%,rgba(0,0,0,0.7) 58%,rgba(0,0,0,0.85) 65%,rgba(0,0,0,0.6) 72%,rgba(0,0,0,0.45) 77%,rgba(0,0,0,0.7) 82%,rgba(0,0,0,0.8) 90%,rgba(0,0,0,0.7) 97%,rgba(0,0,0,0.6) 100%);filter:blur(1.3px);border-radius:3px"></div>
</div>
<div class="t" style="left:450.55px;top:785.74px;font-size:11.15px;line-height:11.15px;">180</div>
<div class="b" style="left:471.70px;top:790px;width:6.70px;height:2px;background:#000"></div>
<div class="t" style="left:450.55px;top:804.24px;font-size:11.15px;line-height:11.15px;">130</div>
<div class="b" style="left:471.70px;top:808px;width:6.70px;height:2px;background:#000"></div>
<div class="t" style="left:450.55px;top:832.14px;font-size:11.15px;line-height:11.15px;">100</div>
<div class="b" style="left:471.70px;top:836px;width:6.70px;height:2px;background:#000"></div>
<div class="t" style="left:456.76px;top:850.24px;font-size:11.15px;line-height:11.15px;">70</div>
<div class="b" style="left:471.70px;top:854px;width:6.70px;height:2px;background:#000"></div>
<div class="b" style="left:448.05px;top:788.30px;width:1.5px;height:94.50px;background:#000"></div>
<div class="t r" style="left:434.60px;top:883.75px;font-size:11.15px;line-height:11.15px;">Denatured IP: PD-1</div>
<div class="t" style="left:532.45px;top:815.80px;font-size:11.15px;line-height:11.15px;">IB: K48-</div>
<div class="t" style="left:532.42px;top:827.50px;font-size:11.15px;line-height:11.15px;">linkage Ub</div>
<div class="b" style="left:479.30px;top:869.30px;width:49.00px;height:18.10px;background:#d0d0d0;border:1.0px solid #2a2a2a;overflow:hidden">
<div class="b" style="left:9.20px;top:2.60px;width:15.00px;height:11.20px;background:#000;border-radius:42%;filter:blur(0.7px);opacity:1.0"></div>
<div class="b" style="left:25.00px;top:3.60px;width:13.40px;height:8.80px;background:#000;border-radius:42%;filter:blur(0.7px);opacity:1.0"></div>
</div>
<div class="t" style="left:456.61px;top:868.84px;font-size:11.15px;line-height:11.15px;">55</div>
<div class="b" style="left:471.70px;top:873px;width:6.70px;height:2px;background:#000"></div>
<div class="t" style="left:532.45px;top:873.70px;font-size:11.15px;line-height:11.15px;">IB: PD-1</div>
<div class="b" style="left:479.30px;top:893.50px;width:49.00px;height:20.50px;background:#d0d0d0;border:1.0px solid #2a2a2a;overflow:hidden">
<div class="b" style="left:10.30px;top:2.00px;width:12.00px;height:15.00px;background:#000;border-radius:42%;filter:blur(0.7px);opacity:1.0"></div>
<div class="b" style="left:25.20px;top:5.25px;width:11.40px;height:8.50px;background:#000;border-radius:48%;filter:blur(0.9px);opacity:0.75"></div>
<div class="b" style="left:31.20px;top:6.50px;width:5.00px;height:7.00px;background:#000;border-radius:2.25px;filter:blur(0.9px);opacity:0.8"></div>
</div>
<div class="t" style="left:456.61px;top:898.64px;font-size:11.15px;line-height:11.15px;">55</div>
<div class="b" style="left:471.70px;top:903px;width:6.70px;height:2px;background:#000"></div>
<div class="t" style="left:532.45px;top:899.80px;font-size:11.15px;line-height:11.15px;">IB: PD-1</div>
<div class="b" style="left:479.30px;top:917.90px;width:49.00px;height:15.60px;background:#d0d0d0;border:1.0px solid #2a2a2a;overflow:hidden">
<div class="b" style="left:10.30px;top:0.80px;width:12.80px;height:9.60px;background:#000;border-radius:42%;filter:blur(0.7px);opacity:1.0"></div>
</div>
<div class="t" style="left:450.55px;top:924.94px;font-size:11.15px;line-height:11.15px;">100</div>
<div class="b" style="left:471.70px;top:929px;width:6.70px;height:2px;background:#000"></div>
<div class="t" style="left:532.45px;top:919.70px;font-size:11.15px;line-height:11.15px;">IB: USP5</div>
<div class="b" style="left:479.30px;top:936.50px;width:49.00px;height:15.60px;background:#d0d0d0;border:1.0px solid #2a2a2a;overflow:hidden">
<div class="b" style="left:11.00px;top:1.70px;width:11.40px;height:9.60px;background:#000;border-radius:42%;filter:blur(0.7px);opacity:1.0"></div>
<div class="b" style="left:25.65px;top:2.30px;width:12.70px;height:8.00px;background:#000;border-radius:42%;filter:blur(0.7px);opacity:1.0"></div>
</div>
<div class="t" style="left:456.61px;top:944.64px;font-size:11.15px;line-height:11.15px;">35</div>
<div class="b" style="left:471.70px;top:949px;width:6.70px;height:2px;background:#000"></div>
<div class="t" style="left:532.45px;top:939.90px;font-size:11.15px;line-height:11.15px;">IB: GAPDH</div>
<div class="t" style="left:487.33px;top:955.00px;font-size:11.15px;line-height:11.15px;">Jurkat</div>
<div class="b" style="left:448.05px;top:893.90px;width:1.5px;height:58.30px;background:#000"></div>
<div class="t r" style="left:434.60px;top:939.61px;font-size:11.15px;line-height:11.15px;">WCL</div>
<div class="t" style="left:614.55px;top:692.70px;font-size:22px;line-height:22px;">n</div>
<div class="t" style="left:665.69px;top:700.00px;font-size:11.15px;line-height:11.15px;">WT</div>
<div class="b" style="left:662.50px;top:711.65px;width:25.30px;height:1.3px;background:#000"></div>
<div class="t" style="left:701.36px;top:700.40px;font-size:11.15px;line-height:11.15px;">cKO</div>
<div class="b" style="left:696.10px;top:711.65px;width:26.00px;height:1.3px;background:#000"></div>
<div class="t" style="left:727.53px;top:700.40px;font-size:11.15px;line-height:11.15px;font-style:italic;">Usp5</div>
<div class="t r" style="left:659.90px;top:779.46px;font-size:11.15px;line-height:11.15px;">Control IgG</div>
<div class="t r" style="left:677.90px;top:779.28px;font-size:11.15px;line-height:11.15px;">Anti-PD-1</div>
<div class="t r" style="left:693.40px;top:779.46px;font-size:11.15px;line-height:11.15px;">Control IgG</div>
<div class="t r" style="left:711.40px;top:779.28px;font-size:11.15px;line-height:11.15px;">Anti-PD-1</div>
<div class="t" style="left:610.90px;top:766.00px;font-size:11.15px;line-height:11.15px;"><i>M</i><sub>r</sub> (kDa)</div>
<div class="b" style="left:653.40px;top:781.70px;width:70.90px;height:97.10px;background:#ececec;border:1.0px solid #2a2a2a;overflow:hidden">
<div class="b" style="left:20.40px;top:0.30px;width:11.40px;height:95.00px;background:linear-gradient(to bottom,rgba(0,0,0,0.06) 0%,rgba(0,0,0,0.14) 20%,rgba(0,0,0,0.2) 35%,rgba(0,0,0,0.14) 50%,rgba(0,0,0,0.08) 70%,rgba(0,0,0,0.12) 88%,rgba(0,0,0,0.25) 100%);filter:blur(1.5px);border-radius:3px"></div>
<div class="b" style="left:54.20px;top:0.30px;width:13.80px;height:95.50px;background:linear-gradient(to bottom,rgba(0,0,0,0.4) 0%,rgba(0,0,0,0.5) 8%,rgba(0,0,0,0.45) 15%,rgba(0,0,0,0.5) 24%,rgba(0,0,0,0.65) 32%,rgba(0,0,0,0.85) 38%,rgba(0,0,0,1) 42%,rgba(0,0,0,1) 60%,rgba(0,0,0,0.55) 64%,rgba(0,0,0,0.45) 70%,rgba(0,0,0,0.75) 74%,rgba(0,0,0,0.7) 84%,rgba(0,0,0,0.55) 88%,rgba(0,0,0,0.85) 94%,rgba(0,0,0,0.95) 100%);filter:blur(1.3px);border-radius:3px"></div>
<div class="b" style="left:53.65px;top:41.80px;width:14.50px;height:17.00px;background:#000;border-radius:45%;filter:blur(1.3px);opacity:1.0"></div>
<div class="b" style="left:11.80px;top:44.50px;width:1.60px;height:1.60px;background:#000;border-radius:0.72px;filter:blur(0.4px);opacity:0.4"></div>
<div class="b" style="left:41.10px;top:6.80px;width:3.00px;height:3.00px;background:#000;border-radius:1.35px;filter:blur(0.8px);opacity:0.15"></div>
</div>
<div class="t" style="left:624.15px;top:789.74px;font-size:11.15px;line-height:11.15px;">180</div>
<div class="b" style="left:644.20px;top:794px;width:6.40px;height:2px;background:#000"></div>
<div class="t" style="left:624.15px;top:808.44px;font-size:11.15px;line-height:11.15px;">130</div>
<div class="b" style="left:644.20px;top:813px;width:6.40px;height:2px;background:#000"></div>
<div class="t" style="left:624.15px;top:837.64px;font-size:11.15px;line-height:11.15px;">100</div>
<div class="b" style="left:644.20px;top:842px;width:6.40px;height:2px;background:#000"></div>
<div class="t" style="left:630.36px;top:863.44px;font-size:11.15px;line-height:11.15px;">70</div>
<div class="b" style="left:644.20px;top:868px;width:6.40px;height:2px;background:#000"></div>
<div class="b" style="left:619.65px;top:784.60px;width:1.5px;height:111.10px;background:#000"></div>
<div class="t r" style="left:604.80px;top:887.15px;font-size:11.15px;line-height:11.15px;">Denatured IP: PD-1</div>
<div class="t" style="left:728.65px;top:817.30px;font-size:11.15px;line-height:11.15px;">IB: K48-</div>
<div class="t" style="left:728.62px;top:828.40px;font-size:11.15px;line-height:11.15px;">linkage Ub</div>
<div class="b" style="left:653.40px;top:881.70px;width:70.90px;height:19.40px;background:#e8e8e8;border:1.0px solid #2a2a2a;overflow:hidden">
<div class="b" style="left:19.45px;top:2.90px;width:13.90px;height:4.80px;background:#000;border-radius:2px;filter:blur(0.6px);opacity:1.0"></div>
<div class="b" style="left:19.45px;top:7.10px;width:13.90px;height:4.80px;background:#000;border-radius:2px;filter:blur(0.6px);opacity:1.0"></div>
<div class="b" style="left:53.70px;top:4.00px;width:14.00px;height:3.60px;background:#000;border-radius:1.62px;filter:blur(0.6px);opacity:1.0"></div>
<div class="b" style="left:53.70px;top:8.10px;width:14.00px;height:3.60px;background:#000;border-radius:1.62px;filter:blur(0.6px);opacity:1.0"></div>
<div class="b" style="left:40.60px;top:6.30px;width:4.00px;height:2.00px;background:#000;border-radius:0.90px;filter:blur(0.8px);opacity:0.1"></div>
</div>
<div class="t" style="left:630.21px;top:885.44px;font-size:11.15px;line-height:11.15px;">55</div>
<div class="b" style="left:644.20px;top:890px;width:6.40px;height:2px;background:#000"></div>
<div class="t" style="left:728.65px;top:885.30px;font-size:11.15px;line-height:11.15px;">IB: PD-1</div>
<div class="b" style="left:653.40px;top:906.00px;width:70.90px;height:19.50px;background:#e6e6e6;border:1.0px solid #2a2a2a;overflow:hidden">
<div class="b" style="left:3.00px;top:1.30px;width:15.20px;height:13.40px;background:#000;border-radius:48%;filter:blur(0.7px);opacity:1.0"></div>
<div class="b" style="left:18.40px;top:1.20px;width:14.40px;height:14.60px;background:#000;border-radius:48%;filter:blur(0.7px);opacity:1.0"></div>
<div class="b" style="left:35.55px;top:5.55px;width:13.30px;height:5.70px;background:#000;border-radius:2.56px;filter:blur(0.7px);opacity:1.0"></div>
<div class="b" style="left:53.75px;top:5.05px;width:13.30px;height:6.70px;background:#000;border-radius:3.02px;filter:blur(0.7px);opacity:1.0"></div>
</div>
<div class="t" style="left:630.21px;top:912.24px;font-size:11.15px;line-height:11.15px;">55</div>
<div class="b" style="left:644.20px;top:916px;width:6.40px;height:2px;background:#000"></div>
<div class="t" style="left:728.65px;top:914.20px;font-size:11.15px;line-height:11.15px;">IB: PD-1</div>
<div class="b" style="left:653.40px;top:928.30px;width:70.90px;height:25.70px;background:#e8e8e8;border:1.0px solid #2a2a2a;overflow:hidden">
<div class="b" style="left:3.25px;top:10.45px;width:14.30px;height:5.70px;background:#000;border-radius:2.56px;filter:blur(0.7px);opacity:1.0"></div>
<div class="b" style="left:18.55px;top:10.45px;width:13.70px;height:5.70px;background:#000;border-radius:2.56px;filter:blur(0.7px);opacity:1.0"></div>
<div class="b" style="left:39.60px;top:12.70px;width:6.00px;height:2.00px;background:#000;border-radius:0.90px;filter:blur(0.8px);opacity:0.12"></div>
<div class="b" style="left:57.60px;top:12.20px;width:6.00px;height:2.00px;background:#000;border-radius:0.90px;filter:blur(0.8px);opacity:0.15"></div>
</div>
<div class="t" style="left:624.15px;top:946.54px;font-size:11.15px;line-height:11.15px;">100</div>
<div class="b" style="left:644.20px;top:951px;width:6.40px;height:2px;background:#000"></div>
<div class="t" style="left:728.65px;top:936.60px;font-size:11.15px;line-height:11.15px;">IB: Usp5</div>
<div class="b" style="left:619.85px;top:909.60px;width:1.5px;height:43.40px;background:#000"></div>
<div class="t r" style="left:608.40px;top:940.61px;font-size:11.15px;line-height:11.15px;">WCL</div>
<div class="t" style="left:622.53px;top:959.90px;font-size:11.15px;line-height:11.15px;">Mouse primary CD3<sup style="font-size:7px;vertical-align:4px;line-height:0">+</sup> T cells</div>
</body></html>
